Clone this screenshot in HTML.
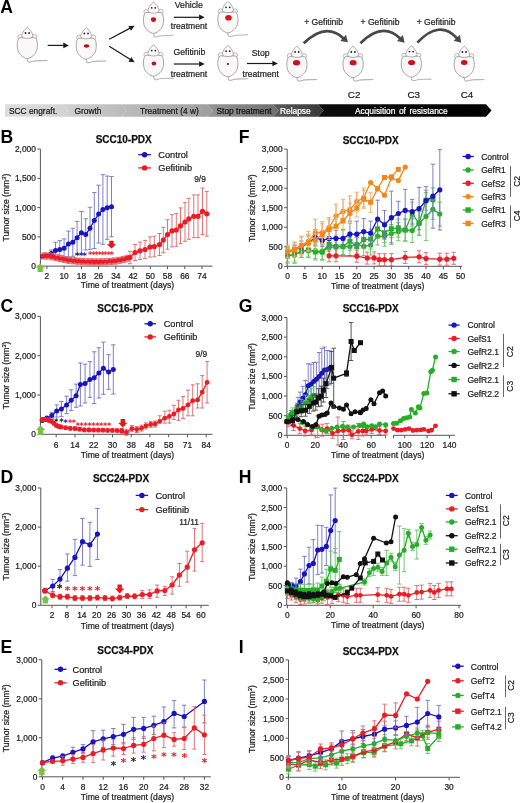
<!DOCTYPE html>
<html><head><meta charset="utf-8"><title>Figure</title><style>html,body{margin:0;padding:0;background:#fff;width:520px;height:803px;overflow:hidden}svg{display:block}</style></head><body>
<svg width="520" height="803" viewBox="0 0 520 803" font-family="'Liberation Sans', Arial, sans-serif">
<rect width="520" height="803" fill="#fff"/>
<text x="0.3" y="12.7" font-size="17.6" text-anchor="start" font-weight="bold" fill="#000" >A</text>
<g transform="translate(27.3,27.2)">
<path d="M0.2,30.8 C-0.4,34.3 1.2,35.6 4,34.6 C9,32.8 14,33.8 20.2,33.3" fill="none" stroke="#b4b4b4" stroke-width="1.1"/>
<circle cx="-7.2" cy="9.8" r="2.4" fill="#fbf7f9" stroke="#a4a4a4" stroke-width="0.75"/>
<circle cx="7.2" cy="9.8" r="2.4" fill="#fbf7f9" stroke="#a4a4a4" stroke-width="0.75"/>
<path d="M-7.6,10.5 C-10.6,12.5 -10.4,19.5 -9.4,23.2 C-8,27.8 -2.8,31.2 0,31.5 C2.8,31.2 8,27.8 9.4,23.2 C10.4,19.5 10.6,12.5 7.6,10.5 Z" fill="#fbf8fa" stroke="#9c9c9c" stroke-width="0.9"/>
<path d="M0,0 C-2,1.3 -5,5 -5.6,8.6 C-5.4,12 5.4,12 5.6,8.6 C5,5 2,1.3 0,0 Z" fill="#fcf9fb" stroke="#a0a0a0" stroke-width="0.85"/>
<circle cx="-1.8" cy="5.8" r="0.9" fill="#222"/><circle cx="1.8" cy="5.8" r="0.9" fill="#222"/>
</g>
<g transform="translate(86.2,27.7)">
<path d="M0.2,30.8 C-0.4,34.3 1.2,35.6 4,34.6 C9,32.8 14,33.8 20.2,33.3" fill="none" stroke="#b4b4b4" stroke-width="1.1"/>
<circle cx="-7.2" cy="9.8" r="2.4" fill="#fbf7f9" stroke="#a4a4a4" stroke-width="0.75"/>
<circle cx="7.2" cy="9.8" r="2.4" fill="#fbf7f9" stroke="#a4a4a4" stroke-width="0.75"/>
<path d="M-7.6,10.5 C-10.6,12.5 -10.4,19.5 -9.4,23.2 C-8,27.8 -2.8,31.2 0,31.5 C2.8,31.2 8,27.8 9.4,23.2 C10.4,19.5 10.6,12.5 7.6,10.5 Z" fill="#fbf8fa" stroke="#9c9c9c" stroke-width="0.9"/>
<path d="M0,0 C-2,1.3 -5,5 -5.6,8.6 C-5.4,12 5.4,12 5.6,8.6 C5,5 2,1.3 0,0 Z" fill="#fcf9fb" stroke="#a0a0a0" stroke-width="0.85"/>
<circle cx="-1.8" cy="5.8" r="0.9" fill="#222"/><circle cx="1.8" cy="5.8" r="0.9" fill="#222"/>
<ellipse cx="0.3" cy="18.3" rx="2.8" ry="1.8" fill="#b3121a"/>
</g>
<g transform="translate(153.5,2.0)">
<path d="M0.2,30.8 C-0.4,34.3 1.2,35.6 4,34.6 C9,32.8 14,33.8 20.2,33.3" fill="none" stroke="#b4b4b4" stroke-width="1.1"/>
<circle cx="-7.2" cy="9.8" r="2.4" fill="#fbf7f9" stroke="#a4a4a4" stroke-width="0.75"/>
<circle cx="7.2" cy="9.8" r="2.4" fill="#fbf7f9" stroke="#a4a4a4" stroke-width="0.75"/>
<path d="M-7.6,10.5 C-10.6,12.5 -10.4,19.5 -9.4,23.2 C-8,27.8 -2.8,31.2 0,31.5 C2.8,31.2 8,27.8 9.4,23.2 C10.4,19.5 10.6,12.5 7.6,10.5 Z" fill="#fbf8fa" stroke="#9c9c9c" stroke-width="0.9"/>
<path d="M0,0 C-2,1.3 -5,5 -5.6,8.6 C-5.4,12 5.4,12 5.6,8.6 C5,5 2,1.3 0,0 Z" fill="#fcf9fb" stroke="#a0a0a0" stroke-width="0.85"/>
<circle cx="-1.8" cy="5.8" r="0.9" fill="#222"/><circle cx="1.8" cy="5.8" r="0.9" fill="#222"/>
<ellipse cx="0.0" cy="17.6" rx="2.6" ry="2.3" fill="#c8121a"/>
</g>
<g transform="translate(227.9,1.5)">
<path d="M0.2,30.8 C-0.4,34.3 1.2,35.6 4,34.6 C9,32.8 14,33.8 20.2,33.3" fill="none" stroke="#b4b4b4" stroke-width="1.1"/>
<circle cx="-7.2" cy="9.8" r="2.4" fill="#fbf7f9" stroke="#a4a4a4" stroke-width="0.75"/>
<circle cx="7.2" cy="9.8" r="2.4" fill="#fbf7f9" stroke="#a4a4a4" stroke-width="0.75"/>
<path d="M-7.6,10.5 C-10.6,12.5 -10.4,19.5 -9.4,23.2 C-8,27.8 -2.8,31.2 0,31.5 C2.8,31.2 8,27.8 9.4,23.2 C10.4,19.5 10.6,12.5 7.6,10.5 Z" fill="#fbf8fa" stroke="#9c9c9c" stroke-width="0.9"/>
<path d="M0,0 C-2,1.3 -5,5 -5.6,8.6 C-5.4,12 5.4,12 5.6,8.6 C5,5 2,1.3 0,0 Z" fill="#fcf9fb" stroke="#a0a0a0" stroke-width="0.85"/>
<circle cx="-1.8" cy="5.8" r="0.9" fill="#222"/><circle cx="1.8" cy="5.8" r="0.9" fill="#222"/>
<ellipse cx="0.6" cy="16.3" rx="3.3" ry="2.8" fill="#e0121a"/>
</g>
<g transform="translate(153.5,44.8)">
<path d="M0.2,30.8 C-0.4,34.3 1.2,35.6 4,34.6 C9,32.8 14,33.8 20.2,33.3" fill="none" stroke="#b4b4b4" stroke-width="1.1"/>
<circle cx="-7.2" cy="9.8" r="2.4" fill="#fbf7f9" stroke="#a4a4a4" stroke-width="0.75"/>
<circle cx="7.2" cy="9.8" r="2.4" fill="#fbf7f9" stroke="#a4a4a4" stroke-width="0.75"/>
<path d="M-7.6,10.5 C-10.6,12.5 -10.4,19.5 -9.4,23.2 C-8,27.8 -2.8,31.2 0,31.5 C2.8,31.2 8,27.8 9.4,23.2 C10.4,19.5 10.6,12.5 7.6,10.5 Z" fill="#fbf8fa" stroke="#9c9c9c" stroke-width="0.9"/>
<path d="M0,0 C-2,1.3 -5,5 -5.6,8.6 C-5.4,12 5.4,12 5.6,8.6 C5,5 2,1.3 0,0 Z" fill="#fcf9fb" stroke="#a0a0a0" stroke-width="0.85"/>
<circle cx="-1.8" cy="5.8" r="0.9" fill="#222"/><circle cx="1.8" cy="5.8" r="0.9" fill="#222"/>
<ellipse cx="0.4" cy="18.7" rx="2.3" ry="2.1" fill="#b81020"/>
</g>
<g transform="translate(227.9,45.4)">
<path d="M0.2,30.8 C-0.4,34.3 1.2,35.6 4,34.6 C9,32.8 14,33.8 20.2,33.3" fill="none" stroke="#b4b4b4" stroke-width="1.1"/>
<circle cx="-7.2" cy="9.8" r="2.4" fill="#fbf7f9" stroke="#a4a4a4" stroke-width="0.75"/>
<circle cx="7.2" cy="9.8" r="2.4" fill="#fbf7f9" stroke="#a4a4a4" stroke-width="0.75"/>
<path d="M-7.6,10.5 C-10.6,12.5 -10.4,19.5 -9.4,23.2 C-8,27.8 -2.8,31.2 0,31.5 C2.8,31.2 8,27.8 9.4,23.2 C10.4,19.5 10.6,12.5 7.6,10.5 Z" fill="#fbf8fa" stroke="#9c9c9c" stroke-width="0.9"/>
<path d="M0,0 C-2,1.3 -5,5 -5.6,8.6 C-5.4,12 5.4,12 5.6,8.6 C5,5 2,1.3 0,0 Z" fill="#fcf9fb" stroke="#a0a0a0" stroke-width="0.85"/>
<circle cx="-1.8" cy="5.8" r="0.9" fill="#222"/><circle cx="1.8" cy="5.8" r="0.9" fill="#222"/>
<ellipse cx="0.0" cy="18.6" rx="1.2" ry="1.1" fill="#a01018"/>
</g>
<g transform="translate(296.9,46.2)">
<path d="M0.2,30.8 C-0.4,34.3 1.2,35.6 4,34.6 C9,32.8 14,33.8 20.2,33.3" fill="none" stroke="#b4b4b4" stroke-width="1.1"/>
<circle cx="-7.2" cy="9.8" r="2.4" fill="#fbf7f9" stroke="#a4a4a4" stroke-width="0.75"/>
<circle cx="7.2" cy="9.8" r="2.4" fill="#fbf7f9" stroke="#a4a4a4" stroke-width="0.75"/>
<path d="M-7.6,10.5 C-10.6,12.5 -10.4,19.5 -9.4,23.2 C-8,27.8 -2.8,31.2 0,31.5 C2.8,31.2 8,27.8 9.4,23.2 C10.4,19.5 10.6,12.5 7.6,10.5 Z" fill="#fbf8fa" stroke="#9c9c9c" stroke-width="0.9"/>
<path d="M0,0 C-2,1.3 -5,5 -5.6,8.6 C-5.4,12 5.4,12 5.6,8.6 C5,5 2,1.3 0,0 Z" fill="#fcf9fb" stroke="#a0a0a0" stroke-width="0.85"/>
<circle cx="-1.8" cy="5.8" r="0.9" fill="#222"/><circle cx="1.8" cy="5.8" r="0.9" fill="#222"/>
<ellipse cx="-0.4" cy="16.5" rx="3.6" ry="2.7" fill="#d0101a"/>
</g>
<g transform="translate(353.1,46.2)">
<path d="M0.2,30.8 C-0.4,34.3 1.2,35.6 4,34.6 C9,32.8 14,33.8 20.2,33.3" fill="none" stroke="#b4b4b4" stroke-width="1.1"/>
<circle cx="-7.2" cy="9.8" r="2.4" fill="#fbf7f9" stroke="#a4a4a4" stroke-width="0.75"/>
<circle cx="7.2" cy="9.8" r="2.4" fill="#fbf7f9" stroke="#a4a4a4" stroke-width="0.75"/>
<path d="M-7.6,10.5 C-10.6,12.5 -10.4,19.5 -9.4,23.2 C-8,27.8 -2.8,31.2 0,31.5 C2.8,31.2 8,27.8 9.4,23.2 C10.4,19.5 10.6,12.5 7.6,10.5 Z" fill="#fbf8fa" stroke="#9c9c9c" stroke-width="0.9"/>
<path d="M0,0 C-2,1.3 -5,5 -5.6,8.6 C-5.4,12 5.4,12 5.6,8.6 C5,5 2,1.3 0,0 Z" fill="#fcf9fb" stroke="#a0a0a0" stroke-width="0.85"/>
<circle cx="-1.8" cy="5.8" r="0.9" fill="#222"/><circle cx="1.8" cy="5.8" r="0.9" fill="#222"/>
<ellipse cx="0.0" cy="16.5" rx="3.5" ry="2.6" fill="#d0101a"/>
</g>
<g transform="translate(411.3,45.8)">
<path d="M0.2,30.8 C-0.4,34.3 1.2,35.6 4,34.6 C9,32.8 14,33.8 20.2,33.3" fill="none" stroke="#b4b4b4" stroke-width="1.1"/>
<circle cx="-7.2" cy="9.8" r="2.4" fill="#fbf7f9" stroke="#a4a4a4" stroke-width="0.75"/>
<circle cx="7.2" cy="9.8" r="2.4" fill="#fbf7f9" stroke="#a4a4a4" stroke-width="0.75"/>
<path d="M-7.6,10.5 C-10.6,12.5 -10.4,19.5 -9.4,23.2 C-8,27.8 -2.8,31.2 0,31.5 C2.8,31.2 8,27.8 9.4,23.2 C10.4,19.5 10.6,12.5 7.6,10.5 Z" fill="#fbf8fa" stroke="#9c9c9c" stroke-width="0.9"/>
<path d="M0,0 C-2,1.3 -5,5 -5.6,8.6 C-5.4,12 5.4,12 5.6,8.6 C5,5 2,1.3 0,0 Z" fill="#fcf9fb" stroke="#a0a0a0" stroke-width="0.85"/>
<circle cx="-1.8" cy="5.8" r="0.9" fill="#222"/><circle cx="1.8" cy="5.8" r="0.9" fill="#222"/>
<ellipse cx="0.3" cy="16.7" rx="3.5" ry="2.6" fill="#cc1018"/>
</g>
<g transform="translate(464.2,46.2)">
<path d="M0.2,30.8 C-0.4,34.3 1.2,35.6 4,34.6 C9,32.8 14,33.8 20.2,33.3" fill="none" stroke="#b4b4b4" stroke-width="1.1"/>
<circle cx="-7.2" cy="9.8" r="2.4" fill="#fbf7f9" stroke="#a4a4a4" stroke-width="0.75"/>
<circle cx="7.2" cy="9.8" r="2.4" fill="#fbf7f9" stroke="#a4a4a4" stroke-width="0.75"/>
<path d="M-7.6,10.5 C-10.6,12.5 -10.4,19.5 -9.4,23.2 C-8,27.8 -2.8,31.2 0,31.5 C2.8,31.2 8,27.8 9.4,23.2 C10.4,19.5 10.6,12.5 7.6,10.5 Z" fill="#fbf8fa" stroke="#9c9c9c" stroke-width="0.9"/>
<path d="M0,0 C-2,1.3 -5,5 -5.6,8.6 C-5.4,12 5.4,12 5.6,8.6 C5,5 2,1.3 0,0 Z" fill="#fcf9fb" stroke="#a0a0a0" stroke-width="0.85"/>
<circle cx="-1.8" cy="5.8" r="0.9" fill="#222"/><circle cx="1.8" cy="5.8" r="0.9" fill="#222"/>
<ellipse cx="0.0" cy="16.3" rx="3.3" ry="2.5" fill="#cc1018"/>
</g>
<line x1="47.7" y1="45.4" x2="63.8" y2="45.4" stroke="#1a1a1a" stroke-width="1.2" />
<polygon points="68.8,45.4 63.3,48.2 63.3,42.6" fill="#1a1a1a"/>
<line x1="109.2" y1="39.2" x2="130.2" y2="28.1" stroke="#1a1a1a" stroke-width="1.2" />
<polygon points="134.6,25.8 131.0,30.8 128.4,25.9" fill="#1a1a1a"/>
<line x1="109.2" y1="46.3" x2="130.4" y2="59.6" stroke="#1a1a1a" stroke-width="1.2" />
<polygon points="134.6,62.3 128.5,61.7 131.4,57.0" fill="#1a1a1a"/>
<line x1="173.8" y1="17.3" x2="199.6" y2="17.3" stroke="#1a1a1a" stroke-width="1.2" />
<polygon points="204.6,17.3 199.1,20.1 199.1,14.5" fill="#1a1a1a"/>
<line x1="173.8" y1="64.0" x2="199.6" y2="64.0" stroke="#1a1a1a" stroke-width="1.2" />
<polygon points="204.6,64.0 199.1,66.8 199.1,61.2" fill="#1a1a1a"/>
<line x1="247.0" y1="63.5" x2="272.9" y2="63.5" stroke="#1a1a1a" stroke-width="1.2" />
<polygon points="277.9,63.5 272.4,66.3 272.4,60.7" fill="#1a1a1a"/>
<text x="188.8" y="8.4" font-size="8.7" text-anchor="middle" font-weight="normal" fill="#222222" stroke="#222222" stroke-width="0.22" >Vehicle</text>
<text x="189.0" y="29.0" font-size="8.6" text-anchor="middle" font-weight="normal" fill="#222222" stroke="#222222" stroke-width="0.22" >treatment</text>
<text x="189.4" y="55.0" font-size="8.7" text-anchor="middle" font-weight="normal" fill="#222222" stroke="#222222" stroke-width="0.22" >Gefitinib</text>
<text x="189.0" y="76.8" font-size="8.6" text-anchor="middle" font-weight="normal" fill="#222222" stroke="#222222" stroke-width="0.22" >treatment</text>
<text x="260.7" y="55.6" font-size="8.7" text-anchor="middle" font-weight="normal" fill="#222222" stroke="#222222" stroke-width="0.22" >Stop</text>
<text x="260.7" y="76.8" font-size="8.6" text-anchor="middle" font-weight="normal" fill="#222222" stroke="#222222" stroke-width="0.22" >treatment</text>
<text x="323.6" y="25.0" font-size="8.6" text-anchor="middle" font-weight="normal" fill="#222222" stroke="#222222" stroke-width="0.22" >+ Gefitinib</text>
<text x="380.0" y="25.0" font-size="8.6" text-anchor="middle" font-weight="normal" fill="#222222" stroke="#222222" stroke-width="0.22" >+ Gefitinib</text>
<text x="436.1" y="25.0" font-size="8.6" text-anchor="middle" font-weight="normal" fill="#222222" stroke="#222222" stroke-width="0.22" >+ Gefitinib</text>
<path d="M303.7,43.3 Q325.8,21.6 343.7,38.4" fill="none" stroke="#484848" stroke-width="2.7"/>
<polygon points="347.9,42.3 340.3,40.9 346.0,34.8" fill="#484848"/>
<path d="M360.4,43.3 Q382.5,21.0 400.5,38.7" fill="none" stroke="#484848" stroke-width="2.7"/>
<polygon points="404.6,42.7 397.0,41.1 402.9,35.1" fill="#484848"/>
<path d="M417.3,42.7 Q439.2,18.9 457.3,38.5" fill="none" stroke="#484848" stroke-width="2.7"/>
<polygon points="461.2,42.7 453.7,40.8 459.9,35.1" fill="#484848"/>
<text x="354.1" y="98.0" font-size="9.8" text-anchor="middle" font-weight="normal" fill="#222222" stroke="#222222" stroke-width="0.22" >C2</text>
<text x="413.8" y="98.0" font-size="9.8" text-anchor="middle" font-weight="normal" fill="#222222" stroke="#222222" stroke-width="0.22" >C3</text>
<text x="467.0" y="98.0" font-size="9.8" text-anchor="middle" font-weight="normal" fill="#222222" stroke="#222222" stroke-width="0.22" >C4</text>
<defs>
<linearGradient id="bg0" x1="0" y1="0" x2="1" y2="0"><stop offset="0" stop-color="#dddddd"/><stop offset="1" stop-color="#d2d2d2"/></linearGradient>
<linearGradient id="bg1" x1="0" y1="0" x2="1" y2="0"><stop offset="0" stop-color="#d2d2d2"/><stop offset="1" stop-color="#b9b9b9"/></linearGradient>
<linearGradient id="bg2" x1="0" y1="0" x2="1" y2="0"><stop offset="0" stop-color="#bdbdbd"/><stop offset="1" stop-color="#9d9d9d"/></linearGradient>
<linearGradient id="bg3" x1="0" y1="0" x2="1" y2="0"><stop offset="0" stop-color="#969696"/><stop offset="1" stop-color="#6e6e6e"/></linearGradient>
<linearGradient id="bg4" x1="0" y1="0" x2="1" y2="0"><stop offset="0" stop-color="#5c5c5c"/><stop offset="1" stop-color="#363636"/></linearGradient>
<linearGradient id="bg5" x1="0" y1="0" x2="1" y2="0"><stop offset="0" stop-color="#0c0c0c"/><stop offset="1" stop-color="#000000"/></linearGradient>
</defs>
<polygon points="5.0,104.3 63.0,104.3 68.5,110.5 63.0,116.8 5.0,116.8 5.0,110.5" fill="url(#bg0)"/>
<polygon points="63.0,104.3 121.0,104.3 126.5,110.5 121.0,116.8 63.0,116.8 68.5,110.5" fill="url(#bg1)"/>
<polygon points="121.0,104.3 207.0,104.3 212.5,110.5 207.0,116.8 121.0,116.8 126.5,110.5" fill="url(#bg2)"/>
<polygon points="207.0,104.3 273.0,104.3 278.5,110.5 273.0,116.8 207.0,116.8 212.5,110.5" fill="url(#bg3)"/>
<polygon points="273.0,104.3 318.0,104.3 323.5,110.5 318.0,116.8 273.0,116.8 278.5,110.5" fill="url(#bg4)"/>
<polygon points="318.0,104.3 486.0,104.3 491.5,110.5 486.0,116.8 318.0,116.8 323.5,110.5" fill="url(#bg5)"/>
<text x="33.1" y="113.5" font-size="8.4" text-anchor="middle" font-weight="normal" fill="#1a1a1a" stroke="#1a1a1a" stroke-width="0.22" >SCC engraft.</text>
<text x="88.0" y="113.5" font-size="8.4" text-anchor="middle" font-weight="normal" fill="#1a1a1a" stroke="#1a1a1a" stroke-width="0.22" >Growth</text>
<text x="169.4" y="113.5" font-size="8.4" text-anchor="middle" font-weight="normal" fill="#1a1a1a" stroke="#1a1a1a" stroke-width="0.22" >Treatment (4 w)</text>
<text x="244.0" y="113.5" font-size="8.4" text-anchor="middle" font-weight="normal" fill="#111" stroke="#111" stroke-width="0.22" >Stop treatment</text>
<text x="295.3" y="113.5" font-size="8.4" text-anchor="middle" font-weight="normal" fill="#fff" stroke="#fff" stroke-width="0.22" >Relapse</text>
<text x="401.3" y="113.5" font-size="8.4" text-anchor="middle" font-weight="normal" fill="#fff" stroke="#fff" stroke-width="0.22" word-spacing="1.2">Acquisition of resistance</text>
<text x="0.5" y="142.5" font-size="17.6" text-anchor="start" font-weight="bold" fill="#000" >B</text>
<text x="123.7" y="142.6" font-size="10" text-anchor="middle" font-weight="bold" fill="#111" stroke="#111" stroke-width="0.25" >SCC10-PDX</text>
<line x1="40.4" y1="149.1" x2="40.4" y2="266.1" stroke="#555555" stroke-width="1" />
<line x1="37.4" y1="266.1" x2="40.4" y2="266.1" stroke="#555555" stroke-width="1" />
<text x="35.9" y="269.1" font-size="8.4" text-anchor="end" font-weight="normal" fill="#222222" stroke="#222222" stroke-width="0.22" >0</text>
<line x1="37.4" y1="236.9" x2="40.4" y2="236.9" stroke="#555555" stroke-width="1" />
<text x="35.9" y="239.9" font-size="8.4" text-anchor="end" font-weight="normal" fill="#222222" stroke="#222222" stroke-width="0.22" >500</text>
<line x1="37.4" y1="207.6" x2="40.4" y2="207.6" stroke="#555555" stroke-width="1" />
<text x="35.9" y="210.6" font-size="8.4" text-anchor="end" font-weight="normal" fill="#222222" stroke="#222222" stroke-width="0.22" >1,000</text>
<line x1="37.4" y1="178.4" x2="40.4" y2="178.4" stroke="#555555" stroke-width="1" />
<text x="35.9" y="181.4" font-size="8.4" text-anchor="end" font-weight="normal" fill="#222222" stroke="#222222" stroke-width="0.22" >1,500</text>
<line x1="37.4" y1="149.1" x2="40.4" y2="149.1" stroke="#555555" stroke-width="1" />
<text x="35.9" y="152.1" font-size="8.4" text-anchor="end" font-weight="normal" fill="#222222" stroke="#222222" stroke-width="0.22" >2,000</text>
<line x1="40.4" y1="266.1" x2="212.5" y2="266.1" stroke="#555555" stroke-width="1" />
<line x1="46.9" y1="266.1" x2="46.9" y2="269.1" stroke="#555555" stroke-width="1" />
<text x="46.9" y="278.5" font-size="8.4" text-anchor="middle" font-weight="normal" fill="#222222" stroke="#222222" stroke-width="0.22" >2</text>
<line x1="64.1" y1="266.1" x2="64.1" y2="269.1" stroke="#555555" stroke-width="1" />
<text x="64.1" y="278.5" font-size="8.4" text-anchor="middle" font-weight="normal" fill="#222222" stroke="#222222" stroke-width="0.22" >10</text>
<line x1="81.4" y1="266.1" x2="81.4" y2="269.1" stroke="#555555" stroke-width="1" />
<text x="81.4" y="278.5" font-size="8.4" text-anchor="middle" font-weight="normal" fill="#222222" stroke="#222222" stroke-width="0.22" >18</text>
<line x1="98.6" y1="266.1" x2="98.6" y2="269.1" stroke="#555555" stroke-width="1" />
<text x="98.6" y="278.5" font-size="8.4" text-anchor="middle" font-weight="normal" fill="#222222" stroke="#222222" stroke-width="0.22" >26</text>
<line x1="115.8" y1="266.1" x2="115.8" y2="269.1" stroke="#555555" stroke-width="1" />
<text x="115.8" y="278.5" font-size="8.4" text-anchor="middle" font-weight="normal" fill="#222222" stroke="#222222" stroke-width="0.22" >34</text>
<line x1="133.1" y1="266.1" x2="133.1" y2="269.1" stroke="#555555" stroke-width="1" />
<text x="133.1" y="278.5" font-size="8.4" text-anchor="middle" font-weight="normal" fill="#222222" stroke="#222222" stroke-width="0.22" >42</text>
<line x1="150.3" y1="266.1" x2="150.3" y2="269.1" stroke="#555555" stroke-width="1" />
<text x="150.3" y="278.5" font-size="8.4" text-anchor="middle" font-weight="normal" fill="#222222" stroke="#222222" stroke-width="0.22" >50</text>
<line x1="167.5" y1="266.1" x2="167.5" y2="269.1" stroke="#555555" stroke-width="1" />
<text x="167.5" y="278.5" font-size="8.4" text-anchor="middle" font-weight="normal" fill="#222222" stroke="#222222" stroke-width="0.22" >58</text>
<line x1="184.8" y1="266.1" x2="184.8" y2="269.1" stroke="#555555" stroke-width="1" />
<text x="184.8" y="278.5" font-size="8.4" text-anchor="middle" font-weight="normal" fill="#222222" stroke="#222222" stroke-width="0.22" >66</text>
<line x1="202.0" y1="266.1" x2="202.0" y2="269.1" stroke="#555555" stroke-width="1" />
<text x="202.0" y="278.5" font-size="8.4" text-anchor="middle" font-weight="normal" fill="#222222" stroke="#222222" stroke-width="0.22" >74</text>
<text x="127.5" y="288.0" font-size="8.6" text-anchor="middle" font-weight="normal" fill="#222222" stroke="#222222" stroke-width="0.22" >Time of treatment (days)</text>
<text transform="translate(8.8,207.6) rotate(-90)" font-size="8.6" text-anchor="middle" fill="#222222" stroke="#222222" stroke-width="0.22">Tumor size (mm<tspan font-size="5.6" dy="-3">3</tspan><tspan dy="3">)</tspan></text>
<path d="M51.2,250.0V257.0M49.0,250.0H53.4M49.0,257.0H53.4M55.5,242.3V258.7M53.3,242.3H57.7M53.3,258.7H57.7M59.8,240.6V258.6M57.6,240.6H62.0M57.6,258.6H62.0M64.1,238.9V257.5M61.9,238.9H66.3M61.9,257.5H66.3M68.4,231.1V256.9M66.2,231.1H70.6M66.2,256.9H70.6M72.8,228.3V256.3M70.6,228.3H75.0M70.6,256.3H75.0M77.1,221.4V254.2M74.9,221.4H79.3M74.9,254.2H79.3M81.4,211.5V253.9M79.2,211.5H83.6M79.2,253.9H83.6M85.7,218.8V250.0M83.5,218.8H87.9M83.5,250.0H87.9M90.0,207.2V249.4M87.8,207.2H92.2M87.8,249.4H92.2M94.3,192.5V248.5M92.1,192.5H96.5M92.1,248.5H96.5M98.6,185.2V243.0M96.4,185.2H100.8M96.4,243.0H100.8M102.9,174.7V244.3M100.7,174.7H105.1M100.7,244.3H105.1M107.2,176.1V239.3M105.0,176.1H109.4M105.0,239.3H109.4M111.5,176.6V236.8M109.3,176.6H113.7M109.3,236.8H113.7" fill="none" stroke="#7272c4" stroke-width="0.9"/>
<polyline points="42.6,256.5 46.9,255.5 51.2,253.5 55.5,250.5 59.8,249.6 64.1,248.2 68.4,244.0 72.8,242.3 77.1,237.8 81.4,232.7 85.7,234.4 90.0,228.3 94.3,220.5 98.6,214.1 102.9,209.5 107.2,207.7 111.5,206.7" fill="none" stroke="#1a14c0" stroke-width="1.3" stroke-linejoin="round"/>
<g fill="#1a14c0"><circle cx="42.6" cy="256.5" r="2.5"/><circle cx="46.9" cy="255.5" r="2.5"/><circle cx="51.2" cy="253.5" r="2.5"/><circle cx="55.5" cy="250.5" r="2.5"/><circle cx="59.8" cy="249.6" r="2.5"/><circle cx="64.1" cy="248.2" r="2.5"/><circle cx="68.4" cy="244.0" r="2.5"/><circle cx="72.8" cy="242.3" r="2.5"/><circle cx="77.1" cy="237.8" r="2.5"/><circle cx="81.4" cy="232.7" r="2.5"/><circle cx="85.7" cy="234.4" r="2.5"/><circle cx="90.0" cy="228.3" r="2.5"/><circle cx="94.3" cy="220.5" r="2.5"/><circle cx="98.6" cy="214.1" r="2.5"/><circle cx="102.9" cy="209.5" r="2.5"/><circle cx="107.2" cy="207.7" r="2.5"/><circle cx="111.5" cy="206.7" r="2.5"/></g>
<path d="M42.6,253.2V259.0M40.6,253.2H44.6M40.6,259.0H44.6M44.8,252.7V258.6M42.8,252.7H46.8M42.8,258.6H46.8M46.9,253.4V259.3M44.9,253.4H48.9M44.9,259.3H48.9M49.1,252.9V258.8M47.1,252.9H51.1M47.1,258.8H51.1M51.2,254.0V259.8M49.2,254.0H53.2M49.2,259.8H53.2M53.4,253.8V259.7M51.4,253.8H55.4M51.4,259.7H55.4M55.5,254.8V260.7M53.5,254.8H57.5M53.5,260.7H57.5M57.7,254.7V260.5M55.7,254.7H59.7M55.7,260.5H59.7M59.8,255.7V261.6M57.8,255.7H61.8M57.8,261.6H61.8M62.0,255.6V261.5M60.0,255.6H64.0M60.0,261.5H64.0M64.1,256.7V262.5M62.1,256.7H66.1M62.1,262.5H66.1M66.3,256.6V262.4M64.3,256.6H68.3M64.3,262.4H68.3M68.4,257.6V263.5M66.4,257.6H70.4M66.4,263.5H70.4M70.6,257.3V263.1M68.6,257.3H72.6M68.6,263.1H72.6M72.8,258.1V263.9M70.8,258.1H74.8M70.8,263.9H74.8M74.9,257.7V263.5M72.9,257.7H76.9M72.9,263.5H76.9M77.1,258.5V264.3M75.1,258.5H79.1M75.1,264.3H79.1M79.2,258.1V263.9M77.2,258.1H81.2M77.2,263.9H81.2M81.4,258.8V264.6M79.4,258.8H83.4M79.4,264.6H83.4M83.5,258.3V264.2M81.5,258.3H85.5M81.5,264.2H85.5M85.7,259.1V264.9M83.7,259.1H87.7M83.7,264.9H87.7M87.8,258.6V264.4M85.8,258.6H89.8M85.8,264.4H89.8M90.0,259.2V265.0M88.0,259.2H92.0M88.0,265.0H92.0M92.1,258.7V264.5M90.1,258.7H94.1M90.1,264.5H94.1M94.3,259.3V265.2M92.3,259.3H96.3M92.3,265.2H96.3M96.4,258.8V264.6M94.4,258.8H98.4M94.4,264.6H98.4M98.6,259.3V265.2M96.6,259.3H100.6M96.6,265.2H100.6M100.8,258.7V264.5M98.8,258.7H102.8M98.8,264.5H102.8M102.9,259.2V265.0M100.9,259.2H104.9M100.9,265.0H104.9M105.1,258.6V264.4M103.1,258.6H107.1M103.1,264.4H107.1M107.2,259.1V264.9M105.2,259.1H109.2M105.2,264.9H109.2M109.4,258.3V264.2M107.4,258.3H111.4M107.4,264.2H111.4M111.5,258.7V264.5M109.5,258.7H113.5M109.5,264.5H113.5M113.7,257.9V263.8M111.7,257.9H115.7M111.7,263.8H115.7M115.8,258.3V264.2M113.8,258.3H117.8M113.8,264.2H117.8M118.0,257.3V263.2M116.0,257.3H120.0M116.0,263.2H120.0M120.1,257.5V263.3M118.1,257.5H122.1M118.1,263.3H122.1M122.3,256.4V262.3M120.3,256.4H124.3M120.3,262.3H124.3M124.5,256.4V262.3M122.5,256.4H126.5M122.5,262.3H126.5M126.6,255.3V261.1M124.6,255.3H128.6M124.6,261.1H128.6M128.8,255.3V261.1M126.8,255.3H130.8M126.8,261.1H130.8M130.0,251.3V263.7M128.0,251.3H132.0M128.0,263.7H132.0M135.0,244.5V260.5M133.0,244.5H137.0M133.0,260.5H137.0M140.0,242.1V259.5M138.0,242.1H142.0M138.0,259.5H142.0M145.0,240.4V258.6M143.0,240.4H147.0M143.0,258.6H147.0M150.0,236.9V257.1M148.0,236.9H152.0M148.0,257.1H152.0M154.3,236.2V256.8M152.3,236.2H156.3M152.3,256.8H156.3M159.5,233.5V255.5M157.5,233.5H161.5M157.5,255.5H161.5M163.3,227.3V252.7M161.3,227.3H165.3M161.3,252.7H165.3M167.5,219.8V249.2M165.5,219.8H169.5M165.5,249.2H169.5M172.0,214.7V246.9M170.0,214.7H174.0M170.0,246.9H174.0M176.3,213.6V246.4M174.3,213.6H178.3M174.3,246.4H178.3M180.5,207.9V243.7M178.5,207.9H182.5M178.5,243.7H182.5M185.0,202.7V241.3M183.0,202.7H187.0M183.0,241.3H187.0M188.8,198.3V239.3M186.8,198.3H190.8M186.8,239.3H190.8M193.8,194.9V237.7M191.8,194.9H195.8M191.8,237.7H195.8M198.0,194.9V237.7M196.0,194.9H200.0M196.0,237.7H200.0M202.5,188.0V234.6M200.5,188.0H204.5M200.5,234.6H204.5M206.8,191.4V236.2M204.8,191.4H208.8M204.8,236.2H208.8" fill="none" stroke="#de6468" stroke-width="0.9"/>
<polyline points="42.6,256.1 44.8,255.6 46.9,256.3 49.1,255.9 51.2,256.9 53.4,256.7 55.5,257.8 57.7,257.6 59.8,258.7 62.0,258.6 64.1,259.6 66.3,259.5 68.4,260.5 70.6,260.2 72.8,261.0 74.9,260.6 77.1,261.4 79.2,261.0 81.4,261.7 83.5,261.3 85.7,262.0 87.8,261.5 90.0,262.1 92.1,261.6 94.3,262.2 96.4,261.7 98.6,262.2 100.8,261.6 102.9,262.1 105.1,261.5 107.2,262.0 109.4,261.2 111.5,261.6 113.7,260.8 115.8,261.2 118.0,260.2 120.1,260.4 122.3,259.4 124.5,259.4 126.6,258.2 128.8,258.2 130.0,257.5 135.0,252.5 140.0,250.8 145.0,249.5 150.0,247.0 154.3,246.5 159.5,244.5 163.3,240.0 167.5,234.5 172.0,230.8 176.3,230.0 180.5,225.8 185.0,222.0 188.8,218.8 193.8,216.3 198.0,216.3 202.5,211.3 206.8,213.8" fill="none" stroke="#ea1c24" stroke-width="1.3" stroke-linejoin="round"/>
<g fill="#ea1c24"><circle cx="42.6" cy="256.1" r="2.1"/><circle cx="44.8" cy="255.6" r="2.1"/><circle cx="46.9" cy="256.3" r="2.1"/><circle cx="49.1" cy="255.9" r="2.1"/><circle cx="51.2" cy="256.9" r="2.1"/><circle cx="53.4" cy="256.7" r="2.1"/><circle cx="55.5" cy="257.8" r="2.1"/><circle cx="57.7" cy="257.6" r="2.1"/><circle cx="59.8" cy="258.7" r="2.1"/><circle cx="62.0" cy="258.6" r="2.1"/><circle cx="64.1" cy="259.6" r="2.1"/><circle cx="66.3" cy="259.5" r="2.1"/><circle cx="68.4" cy="260.5" r="2.1"/><circle cx="70.6" cy="260.2" r="2.1"/><circle cx="72.8" cy="261.0" r="2.1"/><circle cx="74.9" cy="260.6" r="2.1"/><circle cx="77.1" cy="261.4" r="2.1"/><circle cx="79.2" cy="261.0" r="2.1"/><circle cx="81.4" cy="261.7" r="2.1"/><circle cx="83.5" cy="261.3" r="2.1"/><circle cx="85.7" cy="262.0" r="2.1"/><circle cx="87.8" cy="261.5" r="2.1"/><circle cx="90.0" cy="262.1" r="2.1"/><circle cx="92.1" cy="261.6" r="2.1"/><circle cx="94.3" cy="262.2" r="2.1"/><circle cx="96.4" cy="261.7" r="2.1"/><circle cx="98.6" cy="262.2" r="2.1"/><circle cx="100.8" cy="261.6" r="2.1"/><circle cx="102.9" cy="262.1" r="2.1"/><circle cx="105.1" cy="261.5" r="2.1"/><circle cx="107.2" cy="262.0" r="2.1"/><circle cx="109.4" cy="261.2" r="2.1"/><circle cx="111.5" cy="261.6" r="2.1"/><circle cx="113.7" cy="260.8" r="2.1"/><circle cx="115.8" cy="261.2" r="2.1"/><circle cx="118.0" cy="260.2" r="2.1"/><circle cx="120.1" cy="260.4" r="2.1"/><circle cx="122.3" cy="259.4" r="2.1"/><circle cx="124.5" cy="259.4" r="2.1"/><circle cx="126.6" cy="258.2" r="2.1"/><circle cx="128.8" cy="258.2" r="2.1"/><circle cx="130.0" cy="257.5" r="2.6"/><circle cx="135.0" cy="252.5" r="2.6"/><circle cx="140.0" cy="250.8" r="2.6"/><circle cx="145.0" cy="249.5" r="2.6"/><circle cx="150.0" cy="247.0" r="2.6"/><circle cx="154.3" cy="246.5" r="2.6"/><circle cx="159.5" cy="244.5" r="2.6"/><circle cx="163.3" cy="240.0" r="2.6"/><circle cx="167.5" cy="234.5" r="2.6"/><circle cx="172.0" cy="230.8" r="2.6"/><circle cx="176.3" cy="230.0" r="2.6"/><circle cx="180.5" cy="225.8" r="2.6"/><circle cx="185.0" cy="222.0" r="2.6"/><circle cx="188.8" cy="218.8" r="2.6"/><circle cx="193.8" cy="216.3" r="2.6"/><circle cx="198.0" cy="216.3" r="2.6"/><circle cx="202.5" cy="211.3" r="2.6"/><circle cx="206.8" cy="213.8" r="2.6"/></g>
<text x="77.2" y="258.5" font-size="8.5" text-anchor="middle" font-weight="bold" font-family="DejaVu Sans, sans-serif" fill="#222">*</text>
<text x="81.3" y="258.5" font-size="8.5" text-anchor="middle" font-weight="bold" font-family="DejaVu Sans, sans-serif" fill="#1a14c0">*</text>
<text x="84.8" y="258.5" font-size="8.5" text-anchor="middle" font-weight="bold" font-family="DejaVu Sans, sans-serif" fill="#1a14c0">*</text>
<text x="90.2" y="258.2" font-size="8.0" text-anchor="middle" font-weight="bold" font-family="DejaVu Sans, sans-serif" fill="#ea1c24">*</text>
<text x="93.3" y="258.2" font-size="8.0" text-anchor="middle" font-weight="bold" font-family="DejaVu Sans, sans-serif" fill="#ea1c24">*</text>
<text x="96.4" y="258.2" font-size="8.0" text-anchor="middle" font-weight="bold" font-family="DejaVu Sans, sans-serif" fill="#ea1c24">*</text>
<text x="99.5" y="258.2" font-size="8.0" text-anchor="middle" font-weight="bold" font-family="DejaVu Sans, sans-serif" fill="#ea1c24">*</text>
<text x="102.6" y="258.2" font-size="8.0" text-anchor="middle" font-weight="bold" font-family="DejaVu Sans, sans-serif" fill="#ea1c24">*</text>
<text x="105.7" y="258.2" font-size="8.0" text-anchor="middle" font-weight="bold" font-family="DejaVu Sans, sans-serif" fill="#ea1c24">*</text>
<text x="108.8" y="258.2" font-size="8.0" text-anchor="middle" font-weight="bold" font-family="DejaVu Sans, sans-serif" fill="#ea1c24">*</text>
<text x="111.9" y="258.2" font-size="8.0" text-anchor="middle" font-weight="bold" font-family="DejaVu Sans, sans-serif" fill="#ea1c24">*</text>
<polygon points="111.5,248.6 116.2,244.2 113.7,244.2 113.7,240.8 109.3,240.8 109.3,244.2 106.8,244.2" fill="#e8161b"/>
<polygon points="40.2,263.6 44.7,267.8 42.9,267.8 42.9,272.0 37.5,272.0 37.5,267.8 35.7,267.8" fill="#7cc242"/>
<text x="200.0" y="181.6" font-size="8.4" text-anchor="middle" font-weight="normal" fill="#222222" stroke="#222222" stroke-width="0.22" >9/9</text>
<line x1="138.3" y1="154.7" x2="150.9" y2="154.7" stroke="#1a14c0" stroke-width="1.3" />
<circle cx="144.6" cy="154.7" r="2.7" fill="#1a14c0"/>
<text x="158.3" y="158.0" font-size="9.2" text-anchor="start" font-weight="normal" fill="#222222" stroke="#222222" stroke-width="0.22" >Control</text>
<line x1="138.3" y1="167.9" x2="150.9" y2="167.9" stroke="#ea1c24" stroke-width="1.3" />
<circle cx="144.6" cy="167.9" r="2.7" fill="#ea1c24"/>
<text x="158.3" y="171.2" font-size="9.2" text-anchor="start" font-weight="normal" fill="#222222" stroke="#222222" stroke-width="0.22" >Gefitinib</text>
<text x="0.5" y="311.9" font-size="17.6" text-anchor="start" font-weight="bold" fill="#000" >C</text>
<text x="125.4" y="311.7" font-size="10" text-anchor="middle" font-weight="bold" fill="#111" stroke="#111" stroke-width="0.25" >SCC16-PDX</text>
<line x1="40.4" y1="316.4" x2="40.4" y2="434.3" stroke="#555555" stroke-width="1" />
<line x1="37.4" y1="434.3" x2="40.4" y2="434.3" stroke="#555555" stroke-width="1" />
<text x="35.9" y="437.3" font-size="8.4" text-anchor="end" font-weight="normal" fill="#222222" stroke="#222222" stroke-width="0.22" >0</text>
<line x1="37.4" y1="395.0" x2="40.4" y2="395.0" stroke="#555555" stroke-width="1" />
<text x="35.9" y="398.0" font-size="8.4" text-anchor="end" font-weight="normal" fill="#222222" stroke="#222222" stroke-width="0.22" >1,000</text>
<line x1="37.4" y1="355.7" x2="40.4" y2="355.7" stroke="#555555" stroke-width="1" />
<text x="35.9" y="358.7" font-size="8.4" text-anchor="end" font-weight="normal" fill="#222222" stroke="#222222" stroke-width="0.22" >2,000</text>
<line x1="37.4" y1="316.4" x2="40.4" y2="316.4" stroke="#555555" stroke-width="1" />
<text x="35.9" y="319.4" font-size="8.4" text-anchor="end" font-weight="normal" fill="#222222" stroke="#222222" stroke-width="0.22" >3,000</text>
<line x1="40.4" y1="434.3" x2="212.5" y2="434.3" stroke="#555555" stroke-width="1" />
<line x1="56.2" y1="434.3" x2="56.2" y2="437.3" stroke="#555555" stroke-width="1" />
<text x="56.2" y="447.5" font-size="8.4" text-anchor="middle" font-weight="normal" fill="#222222" stroke="#222222" stroke-width="0.22" >6</text>
<line x1="75.0" y1="434.3" x2="75.0" y2="437.3" stroke="#555555" stroke-width="1" />
<text x="75.0" y="447.5" font-size="8.4" text-anchor="middle" font-weight="normal" fill="#222222" stroke="#222222" stroke-width="0.22" >14</text>
<line x1="93.7" y1="434.3" x2="93.7" y2="437.3" stroke="#555555" stroke-width="1" />
<text x="93.7" y="447.5" font-size="8.4" text-anchor="middle" font-weight="normal" fill="#222222" stroke="#222222" stroke-width="0.22" >22</text>
<line x1="112.5" y1="434.3" x2="112.5" y2="437.3" stroke="#555555" stroke-width="1" />
<text x="112.5" y="447.5" font-size="8.4" text-anchor="middle" font-weight="normal" fill="#222222" stroke="#222222" stroke-width="0.22" >30</text>
<line x1="131.2" y1="434.3" x2="131.2" y2="437.3" stroke="#555555" stroke-width="1" />
<text x="131.2" y="447.5" font-size="8.4" text-anchor="middle" font-weight="normal" fill="#222222" stroke="#222222" stroke-width="0.22" >38</text>
<line x1="149.9" y1="434.3" x2="149.9" y2="437.3" stroke="#555555" stroke-width="1" />
<text x="149.9" y="447.5" font-size="8.4" text-anchor="middle" font-weight="normal" fill="#222222" stroke="#222222" stroke-width="0.22" >48</text>
<line x1="168.7" y1="434.3" x2="168.7" y2="437.3" stroke="#555555" stroke-width="1" />
<text x="168.7" y="447.5" font-size="8.4" text-anchor="middle" font-weight="normal" fill="#222222" stroke="#222222" stroke-width="0.22" >58</text>
<line x1="187.4" y1="434.3" x2="187.4" y2="437.3" stroke="#555555" stroke-width="1" />
<text x="187.4" y="447.5" font-size="8.4" text-anchor="middle" font-weight="normal" fill="#222222" stroke="#222222" stroke-width="0.22" >71</text>
<line x1="206.2" y1="434.3" x2="206.2" y2="437.3" stroke="#555555" stroke-width="1" />
<text x="206.2" y="447.5" font-size="8.4" text-anchor="middle" font-weight="normal" fill="#222222" stroke="#222222" stroke-width="0.22" >84</text>
<text x="127.5" y="457.5" font-size="8.6" text-anchor="middle" font-weight="normal" fill="#222222" stroke="#222222" stroke-width="0.22" >Time of treatment (days)</text>
<text transform="translate(8.8,375.4) rotate(-90)" font-size="8.6" text-anchor="middle" fill="#222222" stroke="#222222" stroke-width="0.22">Tumor size (mm<tspan font-size="5.6" dy="-3">3</tspan><tspan dy="3">)</tspan></text>
<path d="M51.8,412.3V418.9M49.6,412.3H54.0M49.6,418.9H54.0M56.7,404.9V417.1M54.5,404.9H58.9M54.5,417.1H58.9M61.4,401.4V416.4M59.2,401.4H63.6M59.2,416.4H63.6M66.6,396.2V413.6M64.4,396.2H68.8M64.4,413.6H68.8M71.2,389.8V410.6M69.0,389.8H73.4M69.0,410.6H73.4M76.1,384.1V407.3M73.9,384.1H78.3M73.9,407.3H78.3M80.4,363.0V406.0M78.2,363.0H82.6M78.2,406.0H82.6M85.1,364.2V403.0M82.9,364.2H87.3M82.9,403.0H87.3M89.9,361.6V397.4M87.7,361.6H92.1M87.7,397.4H92.1M94.2,351.8V403.6M92.0,351.8H96.4M92.0,403.6H96.4M98.9,347.8V398.0M96.7,347.8H101.1M96.7,398.0H101.1M103.4,342.1V394.3M101.2,342.1H105.6M101.2,394.3H105.6M108.6,354.7V389.3M106.4,354.7H110.8M106.4,389.3H110.8M113.3,344.8V394.0M111.1,344.8H115.5M111.1,394.0H115.5" fill="none" stroke="#7272c4" stroke-width="0.9"/>
<polyline points="42.2,420.5 46.9,418.0 51.8,415.6 56.7,411.0 61.4,408.9 66.6,404.9 71.2,400.2 76.1,395.7 80.4,384.5 85.1,383.6 89.9,379.5 94.2,377.7 98.9,372.9 103.4,368.2 108.6,372.0 113.3,369.4" fill="none" stroke="#1a14c0" stroke-width="1.3" stroke-linejoin="round"/>
<g fill="#1a14c0"><circle cx="42.2" cy="420.5" r="2.5"/><circle cx="46.9" cy="418.0" r="2.5"/><circle cx="51.8" cy="415.6" r="2.5"/><circle cx="56.7" cy="411.0" r="2.5"/><circle cx="61.4" cy="408.9" r="2.5"/><circle cx="66.6" cy="404.9" r="2.5"/><circle cx="71.2" cy="400.2" r="2.5"/><circle cx="76.1" cy="395.7" r="2.5"/><circle cx="80.4" cy="384.5" r="2.5"/><circle cx="85.1" cy="383.6" r="2.5"/><circle cx="89.9" cy="379.5" r="2.5"/><circle cx="94.2" cy="377.7" r="2.5"/><circle cx="98.9" cy="372.9" r="2.5"/><circle cx="103.4" cy="368.2" r="2.5"/><circle cx="108.6" cy="372.0" r="2.5"/><circle cx="113.3" cy="369.4" r="2.5"/></g>
<path d="M42.2,417.6V421.1M40.2,417.6H44.2M40.2,421.1H44.2M44.5,417.9V421.4M42.5,417.9H46.5M42.5,421.4H46.5M46.9,418.1V421.6M44.9,418.1H48.9M44.9,421.6H48.9M49.2,418.7V422.2M47.2,418.7H51.2M47.2,422.2H51.2M51.6,419.6V423.1M49.6,419.6H53.6M49.6,423.1H53.6M53.9,421.5V425.1M51.9,421.5H55.9M51.9,425.1H55.9M56.2,423.5V427.0M54.2,423.5H58.2M54.2,427.0H58.2M58.6,424.7V428.2M56.6,424.7H60.6M56.6,428.2H60.6M60.9,425.3V428.8M58.9,425.3H62.9M58.9,428.8H62.9M65.6,426.0V429.6M63.6,426.0H67.6M63.6,429.6H67.6M70.3,426.6V430.2M68.3,426.6H72.3M68.3,430.2H72.3M75.0,426.8V430.4M73.0,426.8H77.0M73.0,430.4H77.0M79.6,427.4V431.0M77.6,427.4H81.6M77.6,431.0H81.6M84.3,428.2V431.7M82.3,428.2H86.3M82.3,431.7H86.3M89.0,428.2V431.7M87.0,428.2H91.0M87.0,431.7H91.0M93.7,428.3V431.8M91.7,428.3H95.7M91.7,431.8H95.7M98.4,428.4V431.9M96.4,428.4H100.4M96.4,431.9H100.4M103.0,428.4V431.9M101.0,428.4H105.0M101.0,431.9H105.0M107.7,428.6V432.1M105.7,428.6H109.7M105.7,432.1H109.7M112.4,428.6V432.1M110.4,428.6H114.4M110.4,432.1H114.4M117.1,428.8V432.3M115.1,428.8H119.1M115.1,432.3H119.1M121.8,428.8V432.3M119.8,428.8H123.8M119.8,432.3H123.8M121.8,428.3V434.3M119.8,428.3H123.8M119.8,434.3H123.8M126.4,429.3V435.3M124.4,429.3H128.4M124.4,435.3H128.4M131.9,425.6V431.6M129.9,425.6H133.9M129.9,431.6H133.9M136.8,426.5V432.5M134.8,426.5H138.8M134.8,432.5H138.8M141.6,425.1V431.1M139.6,425.1H143.6M139.6,431.1H143.6M145.9,422.9V428.9M143.9,422.9H147.9M143.9,428.9H147.9M150.7,421.4V427.4M148.7,421.4H152.7M148.7,427.4H152.7M155.1,421.0V427.0M153.1,421.0H157.1M153.1,427.0H157.1M159.8,415.8V423.1M157.8,415.8H161.8M157.8,423.1H161.8M164.8,411.2V423.1M162.8,411.2H166.8M162.8,423.1H166.8M169.3,410.3V423.1M167.3,410.3H171.3M167.3,423.1H171.3M173.9,405.4V419.5M171.9,405.4H175.9M171.9,419.5H175.9M178.5,400.3V420.4M176.5,400.3H180.5M176.5,420.4H180.5M183.0,396.6V418.6M181.0,396.6H185.0M181.0,418.6H185.0M188.0,390.2V415.8M186.0,390.2H190.0M186.0,415.8H190.0M192.7,384.8V415.8M190.7,384.8H194.7M190.7,415.8H194.7M197.6,383.8V408.0M195.6,383.8H199.6M195.6,408.0H199.6M202.2,375.6V408.0M200.2,375.6H204.2M200.2,408.0H204.2M207.1,361.6V403.0M205.1,361.6H209.1M205.1,403.0H209.1" fill="none" stroke="#de6468" stroke-width="0.9"/>
<polyline points="42.2,419.4 44.5,419.7 46.9,419.8 49.2,420.5 51.6,421.3 53.9,423.3 56.2,425.3 58.6,426.4 60.9,427.0 65.6,427.8 70.3,428.4 75.0,428.6 79.6,429.2 84.3,430.0 89.0,430.0 93.7,430.1 98.4,430.2 103.0,430.2 107.7,430.4 112.4,430.4 117.1,430.6 121.8,430.6 121.8,431.3 126.4,432.3 131.9,428.6 136.8,429.5 141.6,428.1 145.9,425.9 150.7,424.4 155.1,424.0 159.8,421.3 164.8,418.2 169.3,416.4 173.9,414.0 178.5,409.8 183.0,408.5 188.0,404.9 192.7,400.7 197.6,399.9 202.2,392.1 207.1,382.4" fill="none" stroke="#ea1c24" stroke-width="1.3" stroke-linejoin="round"/>
<g fill="#ea1c24"><circle cx="42.2" cy="419.4" r="2.4"/><circle cx="44.5" cy="419.7" r="2.4"/><circle cx="46.9" cy="419.8" r="2.4"/><circle cx="49.2" cy="420.5" r="2.4"/><circle cx="51.6" cy="421.3" r="2.4"/><circle cx="53.9" cy="423.3" r="2.4"/><circle cx="56.2" cy="425.3" r="2.4"/><circle cx="58.6" cy="426.4" r="2.4"/><circle cx="60.9" cy="427.0" r="2.4"/><circle cx="65.6" cy="427.8" r="2.4"/><circle cx="70.3" cy="428.4" r="2.4"/><circle cx="75.0" cy="428.6" r="2.4"/><circle cx="79.6" cy="429.2" r="2.4"/><circle cx="84.3" cy="430.0" r="2.4"/><circle cx="89.0" cy="430.0" r="2.4"/><circle cx="93.7" cy="430.1" r="2.4"/><circle cx="98.4" cy="430.2" r="2.4"/><circle cx="103.0" cy="430.2" r="2.4"/><circle cx="107.7" cy="430.4" r="2.4"/><circle cx="112.4" cy="430.4" r="2.4"/><circle cx="117.1" cy="430.6" r="2.4"/><circle cx="121.8" cy="430.6" r="2.4"/><circle cx="121.8" cy="431.3" r="2.4"/><circle cx="126.4" cy="432.3" r="2.4"/><circle cx="131.9" cy="428.6" r="2.4"/><circle cx="136.8" cy="429.5" r="2.4"/><circle cx="141.6" cy="428.1" r="2.4"/><circle cx="145.9" cy="425.9" r="2.4"/><circle cx="150.7" cy="424.4" r="2.4"/><circle cx="155.1" cy="424.0" r="2.4"/><circle cx="159.8" cy="421.3" r="2.4"/><circle cx="164.8" cy="418.2" r="2.4"/><circle cx="169.3" cy="416.4" r="2.4"/><circle cx="173.9" cy="414.0" r="2.4"/><circle cx="178.5" cy="409.8" r="2.4"/><circle cx="183.0" cy="408.5" r="2.4"/><circle cx="188.0" cy="404.9" r="2.4"/><circle cx="192.7" cy="400.7" r="2.4"/><circle cx="197.6" cy="399.9" r="2.4"/><circle cx="202.2" cy="392.1" r="2.4"/><circle cx="207.1" cy="382.4" r="2.4"/></g>
<text x="56.2" y="424.7" font-size="8.5" text-anchor="middle" font-weight="bold" font-family="DejaVu Sans, sans-serif" fill="#222">*</text>
<text x="61.4" y="424.7" font-size="8.5" text-anchor="middle" font-weight="bold" font-family="DejaVu Sans, sans-serif" fill="#222">*</text>
<text x="65.7" y="425.5" font-size="8.5" text-anchor="middle" font-weight="bold" font-family="DejaVu Sans, sans-serif" fill="#1a14c0">*</text>
<text x="70.0" y="425.7" font-size="8.0" text-anchor="middle" font-weight="bold" font-family="DejaVu Sans, sans-serif" fill="#ea1c24">*</text>
<text x="73.9" y="425.7" font-size="8.0" text-anchor="middle" font-weight="bold" font-family="DejaVu Sans, sans-serif" fill="#ea1c24">*</text>
<text x="77.8" y="428.5" font-size="8.0" text-anchor="middle" font-weight="bold" font-family="DejaVu Sans, sans-serif" fill="#ea1c24">*</text>
<text x="81.7" y="428.5" font-size="8.0" text-anchor="middle" font-weight="bold" font-family="DejaVu Sans, sans-serif" fill="#ea1c24">*</text>
<text x="85.6" y="428.5" font-size="8.0" text-anchor="middle" font-weight="bold" font-family="DejaVu Sans, sans-serif" fill="#ea1c24">*</text>
<text x="89.5" y="428.5" font-size="8.0" text-anchor="middle" font-weight="bold" font-family="DejaVu Sans, sans-serif" fill="#ea1c24">*</text>
<text x="93.4" y="428.5" font-size="8.0" text-anchor="middle" font-weight="bold" font-family="DejaVu Sans, sans-serif" fill="#ea1c24">*</text>
<text x="97.3" y="428.5" font-size="8.0" text-anchor="middle" font-weight="bold" font-family="DejaVu Sans, sans-serif" fill="#ea1c24">*</text>
<text x="101.2" y="428.5" font-size="8.0" text-anchor="middle" font-weight="bold" font-family="DejaVu Sans, sans-serif" fill="#ea1c24">*</text>
<text x="105.1" y="428.5" font-size="8.0" text-anchor="middle" font-weight="bold" font-family="DejaVu Sans, sans-serif" fill="#ea1c24">*</text>
<text x="109.0" y="428.5" font-size="8.0" text-anchor="middle" font-weight="bold" font-family="DejaVu Sans, sans-serif" fill="#ea1c24">*</text>
<polygon points="122.8,427.5 127.5,422.7 125.0,422.7 125.0,419.0 120.6,419.0 120.6,422.7 118.1,422.7" fill="#e8161b"/>
<polygon points="40.6,425.3 45.1,430.1 43.3,430.1 43.3,435.0 37.9,435.0 37.9,430.1 36.1,430.1" fill="#7cc242"/>
<text x="201.3" y="357.2" font-size="8.4" text-anchor="middle" font-weight="normal" fill="#222222" stroke="#222222" stroke-width="0.22" >9/9</text>
<line x1="144.4" y1="323.8" x2="156.0" y2="323.8" stroke="#1a14c0" stroke-width="1.3" />
<circle cx="150.2" cy="323.8" r="2.7" fill="#1a14c0"/>
<text x="163.7" y="327.1" font-size="9.2" text-anchor="start" font-weight="normal" fill="#222222" stroke="#222222" stroke-width="0.22" >Control</text>
<line x1="144.4" y1="336.9" x2="156.0" y2="336.9" stroke="#ea1c24" stroke-width="1.3" />
<circle cx="150.2" cy="336.9" r="2.7" fill="#ea1c24"/>
<text x="163.7" y="340.2" font-size="9.2" text-anchor="start" font-weight="normal" fill="#222222" stroke="#222222" stroke-width="0.22" >Gefitinib</text>
<text x="0.5" y="482.7" font-size="17.6" text-anchor="start" font-weight="bold" fill="#000" >D</text>
<text x="121.0" y="482.4" font-size="10" text-anchor="middle" font-weight="bold" fill="#111" stroke="#111" stroke-width="0.25" >SCC24-PDX</text>
<line x1="40.8" y1="488.0" x2="40.8" y2="605.3" stroke="#555555" stroke-width="1" />
<line x1="37.8" y1="605.3" x2="40.8" y2="605.3" stroke="#555555" stroke-width="1" />
<text x="36.3" y="608.3" font-size="8.4" text-anchor="end" font-weight="normal" fill="#222222" stroke="#222222" stroke-width="0.22" >0</text>
<line x1="37.8" y1="566.2" x2="40.8" y2="566.2" stroke="#555555" stroke-width="1" />
<text x="36.3" y="569.2" font-size="8.4" text-anchor="end" font-weight="normal" fill="#222222" stroke="#222222" stroke-width="0.22" >1,000</text>
<line x1="37.8" y1="527.1" x2="40.8" y2="527.1" stroke="#555555" stroke-width="1" />
<text x="36.3" y="530.1" font-size="8.4" text-anchor="end" font-weight="normal" fill="#222222" stroke="#222222" stroke-width="0.22" >2,000</text>
<line x1="37.8" y1="488.0" x2="40.8" y2="488.0" stroke="#555555" stroke-width="1" />
<text x="36.3" y="491.0" font-size="8.4" text-anchor="end" font-weight="normal" fill="#222222" stroke="#222222" stroke-width="0.22" >3,000</text>
<line x1="40.8" y1="605.3" x2="208.8" y2="605.3" stroke="#555555" stroke-width="1" />
<line x1="52.0" y1="605.3" x2="52.0" y2="608.3" stroke="#555555" stroke-width="1" />
<text x="52.0" y="617.8" font-size="8.4" text-anchor="middle" font-weight="normal" fill="#222222" stroke="#222222" stroke-width="0.22" >2</text>
<line x1="66.9" y1="605.3" x2="66.9" y2="608.3" stroke="#555555" stroke-width="1" />
<text x="66.9" y="617.8" font-size="8.4" text-anchor="middle" font-weight="normal" fill="#222222" stroke="#222222" stroke-width="0.22" >8</text>
<line x1="81.8" y1="605.3" x2="81.8" y2="608.3" stroke="#555555" stroke-width="1" />
<text x="81.8" y="617.8" font-size="8.4" text-anchor="middle" font-weight="normal" fill="#222222" stroke="#222222" stroke-width="0.22" >14</text>
<line x1="96.7" y1="605.3" x2="96.7" y2="608.3" stroke="#555555" stroke-width="1" />
<text x="96.7" y="617.8" font-size="8.4" text-anchor="middle" font-weight="normal" fill="#222222" stroke="#222222" stroke-width="0.22" >20</text>
<line x1="111.6" y1="605.3" x2="111.6" y2="608.3" stroke="#555555" stroke-width="1" />
<text x="111.6" y="617.8" font-size="8.4" text-anchor="middle" font-weight="normal" fill="#222222" stroke="#222222" stroke-width="0.22" >26</text>
<line x1="126.5" y1="605.3" x2="126.5" y2="608.3" stroke="#555555" stroke-width="1" />
<text x="126.5" y="617.8" font-size="8.4" text-anchor="middle" font-weight="normal" fill="#222222" stroke="#222222" stroke-width="0.22" >30</text>
<line x1="141.4" y1="605.3" x2="141.4" y2="608.3" stroke="#555555" stroke-width="1" />
<text x="141.4" y="617.8" font-size="8.4" text-anchor="middle" font-weight="normal" fill="#222222" stroke="#222222" stroke-width="0.22" >36</text>
<line x1="156.3" y1="605.3" x2="156.3" y2="608.3" stroke="#555555" stroke-width="1" />
<text x="156.3" y="617.8" font-size="8.4" text-anchor="middle" font-weight="normal" fill="#222222" stroke="#222222" stroke-width="0.22" >42</text>
<line x1="171.2" y1="605.3" x2="171.2" y2="608.3" stroke="#555555" stroke-width="1" />
<text x="171.2" y="617.8" font-size="8.4" text-anchor="middle" font-weight="normal" fill="#222222" stroke="#222222" stroke-width="0.22" >48</text>
<line x1="186.1" y1="605.3" x2="186.1" y2="608.3" stroke="#555555" stroke-width="1" />
<text x="186.1" y="617.8" font-size="8.4" text-anchor="middle" font-weight="normal" fill="#222222" stroke="#222222" stroke-width="0.22" >54</text>
<line x1="201.0" y1="605.3" x2="201.0" y2="608.3" stroke="#555555" stroke-width="1" />
<text x="201.0" y="617.8" font-size="8.4" text-anchor="middle" font-weight="normal" fill="#222222" stroke="#222222" stroke-width="0.22" >60</text>
<text x="127.5" y="628.5" font-size="8.6" text-anchor="middle" font-weight="normal" fill="#222222" stroke="#222222" stroke-width="0.22" >Time of treatment (days)</text>
<text transform="translate(8.8,546.6) rotate(-90)" font-size="8.6" text-anchor="middle" fill="#222222" stroke="#222222" stroke-width="0.22">Tumor size (mm<tspan font-size="5.6" dy="-3">3</tspan><tspan dy="3">)</tspan></text>
<path d="M52.7,579.4V591.5M50.5,579.4H54.9M50.5,591.5H54.9M60.0,569.6V586.3M57.8,569.6H62.2M57.8,586.3H62.2M67.4,554.0V581.2M65.2,554.0H69.6M65.2,581.2H69.6M74.9,539.3V575.6M72.7,539.3H77.1M72.7,575.6H77.1M82.5,518.5V565.2M80.3,518.5H84.7M80.3,565.2H84.7M89.9,522.3V566.4M87.7,522.3H92.1M87.7,566.4H92.1M97.4,508.5V559.5M95.2,508.5H99.6M95.2,559.5H99.6" fill="none" stroke="#7272c4" stroke-width="0.9"/>
<polyline points="44.9,590.7 52.7,586.0 60.0,579.1 67.4,568.2 74.9,557.4 82.5,541.7 89.9,544.8 97.4,534.1" fill="none" stroke="#1a14c0" stroke-width="1.3" stroke-linejoin="round"/>
<g fill="#1a14c0"><circle cx="44.9" cy="590.7" r="2.6"/><circle cx="52.7" cy="586.0" r="2.6"/><circle cx="60.0" cy="579.1" r="2.6"/><circle cx="67.4" cy="568.2" r="2.6"/><circle cx="74.9" cy="557.4" r="2.6"/><circle cx="82.5" cy="541.7" r="2.6"/><circle cx="89.9" cy="544.8" r="2.6"/><circle cx="97.4" cy="534.1" r="2.6"/></g>
<path d="M44.9,588.2V593.2M42.9,588.2H46.9M42.9,593.2H46.9M52.7,592.8V597.8M50.7,592.8H54.7M50.7,597.8H54.7M60.0,594.2V599.2M58.0,594.2H62.0M58.0,599.2H62.0M67.4,594.2V599.2M65.4,594.2H69.4M65.4,599.2H69.4M74.9,595.6V600.6M72.9,595.6H76.9M72.9,600.6H76.9M82.5,595.6V600.6M80.5,595.6H84.5M80.5,600.6H84.5M89.9,595.6V600.6M87.9,595.6H91.9M87.9,600.6H91.9M97.4,595.1V600.1M95.4,595.1H99.4M95.4,600.1H99.4M105.0,595.6V600.6M103.0,595.6H107.0M103.0,600.6H107.0M112.4,596.0V601.0M110.4,596.0H114.4M110.4,601.0H114.4M119.7,595.1V600.1M117.7,595.1H121.7M117.7,600.1H121.7M127.3,593.5V598.5M125.3,593.5H129.3M125.3,598.5H129.3M134.6,593.8V598.8M132.6,593.8H136.6M132.6,598.8H136.6M142.3,590.5V598.5M140.3,590.5H144.3M140.3,598.5H144.3M149.6,589.9V598.5M147.6,589.9H151.6M147.6,598.5H151.6M157.1,585.0V597.3M155.1,585.0H159.1M155.1,597.3H159.1M164.8,586.3V595.4M162.8,586.3H166.8M162.8,595.4H166.8M172.1,576.8V594.1M170.1,576.8H174.1M170.1,594.1H174.1M179.4,563.5V586.3M177.4,563.5H181.4M177.4,586.3H181.4M187.2,551.2V582.1M185.2,551.2H189.2M185.2,582.1H189.2M194.5,528.4V571.1M192.5,528.4H196.5M192.5,571.1H196.5M202.2,523.3V561.6M200.2,523.3H204.2M200.2,561.6H204.2" fill="none" stroke="#de6468" stroke-width="0.9"/>
<polyline points="44.9,590.7 52.7,595.3 60.0,596.7 67.4,596.7 74.9,598.1 82.5,598.1 89.9,598.1 97.4,597.6 105.0,598.1 112.4,598.5 119.7,597.6 127.3,596.0 134.6,596.3 142.3,594.5 149.6,594.5 157.1,590.9 164.8,590.5 172.1,585.0 179.4,575.0 187.2,567.1 194.5,549.8 202.2,542.8" fill="none" stroke="#ea1c24" stroke-width="1.3" stroke-linejoin="round"/>
<g fill="#ea1c24"><circle cx="44.9" cy="590.7" r="2.6"/><circle cx="52.7" cy="595.3" r="2.6"/><circle cx="60.0" cy="596.7" r="2.6"/><circle cx="67.4" cy="596.7" r="2.6"/><circle cx="74.9" cy="598.1" r="2.6"/><circle cx="82.5" cy="598.1" r="2.6"/><circle cx="89.9" cy="598.1" r="2.6"/><circle cx="97.4" cy="597.6" r="2.6"/><circle cx="105.0" cy="598.1" r="2.6"/><circle cx="112.4" cy="598.5" r="2.6"/><circle cx="119.7" cy="597.6" r="2.6"/><circle cx="127.3" cy="596.0" r="2.6"/><circle cx="134.6" cy="596.3" r="2.6"/><circle cx="142.3" cy="594.5" r="2.6"/><circle cx="149.6" cy="594.5" r="2.6"/><circle cx="157.1" cy="590.9" r="2.6"/><circle cx="164.8" cy="590.5" r="2.6"/><circle cx="172.1" cy="585.0" r="2.6"/><circle cx="179.4" cy="575.0" r="2.6"/><circle cx="187.2" cy="567.1" r="2.6"/><circle cx="194.5" cy="549.8" r="2.6"/><circle cx="202.2" cy="542.8" r="2.6"/></g>
<text x="59.6" y="592.1" font-size="11" text-anchor="middle" font-weight="bold" font-family="DejaVu Sans, sans-serif" fill="#222">*</text>
<text x="67.4" y="593.8" font-size="11" text-anchor="middle" font-weight="bold" font-family="DejaVu Sans, sans-serif" fill="#ea1c24">*</text>
<text x="74.9" y="593.8" font-size="11" text-anchor="middle" font-weight="bold" font-family="DejaVu Sans, sans-serif" fill="#ea1c24">*</text>
<text x="82.5" y="593.8" font-size="11" text-anchor="middle" font-weight="bold" font-family="DejaVu Sans, sans-serif" fill="#ea1c24">*</text>
<text x="89.9" y="593.8" font-size="11" text-anchor="middle" font-weight="bold" font-family="DejaVu Sans, sans-serif" fill="#ea1c24">*</text>
<text x="97.4" y="593.8" font-size="11" text-anchor="middle" font-weight="bold" font-family="DejaVu Sans, sans-serif" fill="#ea1c24">*</text>
<polygon points="119.7,593.5 124.4,588.5 121.9,588.5 121.9,584.5 117.5,584.5 117.5,588.5 115.0,588.5" fill="#e8161b"/>
<polygon points="45.4,595.6 49.9,599.6 48.1,599.6 48.1,603.6 42.7,603.6 42.7,599.6 40.9,599.6" fill="#7cc242"/>
<text x="189.0" y="524.8" font-size="8.4" text-anchor="middle" font-weight="normal" fill="#222222" stroke="#222222" stroke-width="0.22" >11/11</text>
<line x1="135.7" y1="495.4" x2="148.1" y2="495.4" stroke="#1a14c0" stroke-width="1.3" />
<circle cx="141.9" cy="495.4" r="2.7" fill="#1a14c0"/>
<text x="155.4" y="498.7" font-size="9.2" text-anchor="start" font-weight="normal" fill="#222222" stroke="#222222" stroke-width="0.22" >Control</text>
<line x1="135.7" y1="509.6" x2="148.1" y2="509.6" stroke="#ea1c24" stroke-width="1.3" />
<circle cx="141.9" cy="509.6" r="2.7" fill="#ea1c24"/>
<text x="155.4" y="512.9" font-size="9.2" text-anchor="start" font-weight="normal" fill="#222222" stroke="#222222" stroke-width="0.22" >Gefitinib</text>
<text x="0.5" y="652.7" font-size="17.6" text-anchor="start" font-weight="bold" fill="#000" >E</text>
<text x="125.4" y="653.6" font-size="10" text-anchor="middle" font-weight="bold" fill="#111" stroke="#111" stroke-width="0.25" >SCC34-PDX</text>
<line x1="41.8" y1="659.8" x2="41.8" y2="776.8" stroke="#555555" stroke-width="1" />
<line x1="38.8" y1="776.8" x2="41.8" y2="776.8" stroke="#555555" stroke-width="1" />
<text x="37.3" y="779.8" font-size="8.4" text-anchor="end" font-weight="normal" fill="#222222" stroke="#222222" stroke-width="0.22" >0</text>
<line x1="38.8" y1="737.8" x2="41.8" y2="737.8" stroke="#555555" stroke-width="1" />
<text x="37.3" y="740.8" font-size="8.4" text-anchor="end" font-weight="normal" fill="#222222" stroke="#222222" stroke-width="0.22" >1,000</text>
<line x1="38.8" y1="698.8" x2="41.8" y2="698.8" stroke="#555555" stroke-width="1" />
<text x="37.3" y="701.8" font-size="8.4" text-anchor="end" font-weight="normal" fill="#222222" stroke="#222222" stroke-width="0.22" >2,000</text>
<line x1="38.8" y1="659.8" x2="41.8" y2="659.8" stroke="#555555" stroke-width="1" />
<text x="37.3" y="662.8" font-size="8.4" text-anchor="end" font-weight="normal" fill="#222222" stroke="#222222" stroke-width="0.22" >3,000</text>
<line x1="41.8" y1="776.8" x2="210.8" y2="776.8" stroke="#555555" stroke-width="1" />
<line x1="42.5" y1="776.8" x2="42.5" y2="779.8" stroke="#555555" stroke-width="1" />
<text x="42.5" y="790.0" font-size="8.4" text-anchor="middle" font-weight="normal" fill="#222222" stroke="#222222" stroke-width="0.22" >0</text>
<line x1="62.7" y1="776.8" x2="62.7" y2="779.8" stroke="#555555" stroke-width="1" />
<text x="62.7" y="790.0" font-size="8.4" text-anchor="middle" font-weight="normal" fill="#222222" stroke="#222222" stroke-width="0.22" >4</text>
<line x1="83.0" y1="776.8" x2="83.0" y2="779.8" stroke="#555555" stroke-width="1" />
<text x="83.0" y="790.0" font-size="8.4" text-anchor="middle" font-weight="normal" fill="#222222" stroke="#222222" stroke-width="0.22" >8</text>
<line x1="103.2" y1="776.8" x2="103.2" y2="779.8" stroke="#555555" stroke-width="1" />
<text x="103.2" y="790.0" font-size="8.4" text-anchor="middle" font-weight="normal" fill="#222222" stroke="#222222" stroke-width="0.22" >12</text>
<line x1="123.5" y1="776.8" x2="123.5" y2="779.8" stroke="#555555" stroke-width="1" />
<text x="123.5" y="790.0" font-size="8.4" text-anchor="middle" font-weight="normal" fill="#222222" stroke="#222222" stroke-width="0.22" >16</text>
<line x1="143.7" y1="776.8" x2="143.7" y2="779.8" stroke="#555555" stroke-width="1" />
<text x="143.7" y="790.0" font-size="8.4" text-anchor="middle" font-weight="normal" fill="#222222" stroke="#222222" stroke-width="0.22" >20</text>
<line x1="163.9" y1="776.8" x2="163.9" y2="779.8" stroke="#555555" stroke-width="1" />
<text x="163.9" y="790.0" font-size="8.4" text-anchor="middle" font-weight="normal" fill="#222222" stroke="#222222" stroke-width="0.22" >24</text>
<line x1="184.2" y1="776.8" x2="184.2" y2="779.8" stroke="#555555" stroke-width="1" />
<text x="184.2" y="790.0" font-size="8.4" text-anchor="middle" font-weight="normal" fill="#222222" stroke="#222222" stroke-width="0.22" >28</text>
<line x1="204.4" y1="776.8" x2="204.4" y2="779.8" stroke="#555555" stroke-width="1" />
<text x="204.4" y="790.0" font-size="8.4" text-anchor="middle" font-weight="normal" fill="#222222" stroke="#222222" stroke-width="0.22" >32</text>
<text x="127.5" y="800.0" font-size="8.6" text-anchor="middle" font-weight="normal" fill="#222222" stroke="#222222" stroke-width="0.22" >Time of treatment (days)</text>
<text transform="translate(8.8,718.3) rotate(-90)" font-size="8.6" text-anchor="middle" fill="#222222" stroke="#222222" stroke-width="0.22">Tumor size (mm<tspan font-size="5.6" dy="-3">3</tspan><tspan dy="3">)</tspan></text>
<path d="M52.6,755.8V760.6M50.4,755.8H54.8M50.4,760.6H54.8M62.7,753.9V758.3M60.5,753.9H64.9M60.5,758.3H64.9M72.9,747.2V757.4M70.7,747.2H75.1M70.7,757.4H75.1M83.0,744.6V753.2M80.8,744.6H85.2M80.8,753.2H85.2M93.1,730.7V752.9M90.9,730.7H95.3M90.9,752.9H95.3M103.2,730.2V747.4M101.0,730.2H105.4M101.0,747.4H105.4M113.3,728.5V744.7M111.1,728.5H115.5M111.1,744.7H115.5M123.5,724.4V743.9M121.3,724.4H125.7M121.3,743.9H125.7M133.6,717.4V739.4M131.4,717.4H135.8M131.4,739.4H135.8M143.7,717.4V738.5M141.5,717.4H145.9M141.5,738.5H145.9M153.8,716.2V734.4M151.6,716.2H156.0M151.6,734.4H156.0M163.9,707.0V735.7M161.7,707.0H166.1M161.7,735.7H166.1M174.1,700.6V727.9M171.9,700.6H176.3M171.9,727.9H176.3M184.2,705.2V727.1M182.0,705.2H186.4M182.0,727.1H186.4M204.4,680.0V722.9M202.2,680.0H206.6M202.2,722.9H206.6" fill="none" stroke="#7272c4" stroke-width="0.9"/>
<polyline points="42.5,762.7 52.6,758.2 62.7,756.1 72.9,752.3 83.0,748.9 93.1,741.8 103.2,738.8 113.3,736.6 123.5,734.3 133.6,729.3 143.7,728.4 153.8,725.3 163.9,721.7 174.1,713.4 184.2,716.5 204.4,701.4" fill="none" stroke="#1a14c0" stroke-width="1.3" stroke-linejoin="round"/>
<g fill="#1a14c0"><circle cx="42.5" cy="762.7" r="2.6"/><circle cx="52.6" cy="758.2" r="2.6"/><circle cx="62.7" cy="756.1" r="2.6"/><circle cx="72.9" cy="752.3" r="2.6"/><circle cx="83.0" cy="748.9" r="2.6"/><circle cx="93.1" cy="741.8" r="2.6"/><circle cx="103.2" cy="738.8" r="2.6"/><circle cx="113.3" cy="736.6" r="2.6"/><circle cx="123.5" cy="734.3" r="2.6"/><circle cx="133.6" cy="729.3" r="2.6"/><circle cx="143.7" cy="728.4" r="2.6"/><circle cx="153.8" cy="725.3" r="2.6"/><circle cx="163.9" cy="721.7" r="2.6"/><circle cx="174.1" cy="713.4" r="2.6"/><circle cx="184.2" cy="716.5" r="2.6"/><circle cx="204.4" cy="701.4" r="2.6"/></g>
<path d="M52.6,759.5V763.1M50.6,759.5H54.6M50.6,763.1H54.6M62.7,756.3V765.3M60.7,756.3H64.7M60.7,765.3H64.7M72.9,754.6V763.6M70.9,754.6H74.9M70.9,763.6H74.9M83.0,752.6V762.2M81.0,752.6H85.0M81.0,762.2H85.0M93.1,744.5V762.7M91.1,744.5H95.1M91.1,762.7H95.1M103.2,740.2V760.0M101.2,740.2H105.2M101.2,760.0H105.2M113.3,739.8V756.2M111.3,739.8H115.3M111.3,756.2H115.3M123.5,742.5V754.5M121.5,742.5H125.5M121.5,754.5H125.5M133.6,737.7V753.1M131.6,737.7H135.6M131.6,753.1H135.6M143.7,736.4V752.2M141.7,736.4H145.7M141.7,752.2H145.7M153.8,726.1V750.9M151.8,726.1H155.8M151.8,750.9H155.8M163.9,722.8V747.6M161.9,722.8H165.9M161.9,747.6H165.9M174.1,732.7V746.1M172.1,732.7H176.1M172.1,746.1H176.1M184.2,727.6V749.4M182.2,727.6H186.2M182.2,749.4H186.2M194.3,706.7V749.1M192.3,706.7H196.3M192.3,749.1H196.3M204.4,715.1V754.5M202.4,715.1H206.4M202.4,754.5H206.4" fill="none" stroke="#de6468" stroke-width="0.9"/>
<polyline points="42.5,762.7 52.6,761.3 62.7,760.8 72.9,759.1 83.0,757.4 93.1,753.6 103.2,750.1 113.3,748.0 123.5,748.5 133.6,745.4 143.7,744.3 153.8,738.5 163.9,735.2 174.1,739.4 184.2,738.5 194.3,727.9 204.4,734.8" fill="none" stroke="#ea1c24" stroke-width="1.3" stroke-linejoin="round"/>
<g fill="#ea1c24"><circle cx="42.5" cy="762.7" r="2.6"/><circle cx="52.6" cy="761.3" r="2.6"/><circle cx="62.7" cy="760.8" r="2.6"/><circle cx="72.9" cy="759.1" r="2.6"/><circle cx="83.0" cy="757.4" r="2.6"/><circle cx="93.1" cy="753.6" r="2.6"/><circle cx="103.2" cy="750.1" r="2.6"/><circle cx="113.3" cy="748.0" r="2.6"/><circle cx="123.5" cy="748.5" r="2.6"/><circle cx="133.6" cy="745.4" r="2.6"/><circle cx="143.7" cy="744.3" r="2.6"/><circle cx="153.8" cy="738.5" r="2.6"/><circle cx="163.9" cy="735.2" r="2.6"/><circle cx="174.1" cy="739.4" r="2.6"/><circle cx="184.2" cy="738.5" r="2.6"/><circle cx="194.3" cy="727.9" r="2.6"/><circle cx="204.4" cy="734.8" r="2.6"/></g>
<text x="113.3" y="768.5" font-size="11" text-anchor="middle" font-weight="bold" font-family="DejaVu Sans, sans-serif" fill="#222">*</text>
<text x="123.3" y="766.2" font-size="11" text-anchor="middle" font-weight="bold" font-family="DejaVu Sans, sans-serif" fill="#ea1c24">*</text>
<text x="133.3" y="765.2" font-size="11" text-anchor="middle" font-weight="bold" font-family="DejaVu Sans, sans-serif" fill="#222">*</text>
<text x="143.4" y="763.4" font-size="11" text-anchor="middle" font-weight="bold" font-family="DejaVu Sans, sans-serif" fill="#1a14c0">*</text>
<text x="153.8" y="762.1" font-size="11" text-anchor="middle" font-weight="bold" font-family="DejaVu Sans, sans-serif" fill="#ea1c24">*</text>
<text x="163.8" y="760.3" font-size="11" text-anchor="middle" font-weight="bold" font-family="DejaVu Sans, sans-serif" fill="#ea1c24">*</text>
<text x="173.9" y="759.8" font-size="11" text-anchor="middle" font-weight="bold" font-family="DejaVu Sans, sans-serif" fill="#ea1c24">*</text>
<text x="184.3" y="761.0" font-size="11" text-anchor="middle" font-weight="bold" font-family="DejaVu Sans, sans-serif" fill="#ea1c24">*</text>
<text x="204.4" y="765.8" font-size="11" text-anchor="middle" font-weight="bold" font-family="DejaVu Sans, sans-serif" fill="#ea1c24">*</text>
<polygon points="41.8,766.5 46.3,770.9 44.5,770.9 44.5,775.3 39.1,775.3 39.1,770.9 37.3,770.9" fill="#7cc242"/>
<line x1="54.5" y1="669.3" x2="66.5" y2="669.3" stroke="#1a14c0" stroke-width="1.3" />
<circle cx="60.5" cy="669.3" r="2.7" fill="#1a14c0"/>
<text x="72.5" y="672.6" font-size="9.2" text-anchor="start" font-weight="normal" fill="#222222" stroke="#222222" stroke-width="0.22" >Control</text>
<line x1="54.5" y1="682.8" x2="66.5" y2="682.8" stroke="#ea1c24" stroke-width="1.3" />
<circle cx="60.5" cy="682.8" r="2.7" fill="#ea1c24"/>
<text x="72.5" y="686.1" font-size="9.2" text-anchor="start" font-weight="normal" fill="#222222" stroke="#222222" stroke-width="0.22" >Gefitinib</text>
<text x="238.8" y="142.5" font-size="17.6" text-anchor="start" font-weight="bold" fill="#000" >F</text>
<line x1="287.2" y1="149.1" x2="287.2" y2="266.3" stroke="#555555" stroke-width="1" />
<line x1="284.2" y1="266.3" x2="287.2" y2="266.3" stroke="#555555" stroke-width="1" />
<text x="282.7" y="269.3" font-size="8.4" text-anchor="end" font-weight="normal" fill="#222222" stroke="#222222" stroke-width="0.22" >0</text>
<line x1="284.2" y1="246.8" x2="287.2" y2="246.8" stroke="#555555" stroke-width="1" />
<text x="282.7" y="249.8" font-size="8.4" text-anchor="end" font-weight="normal" fill="#222222" stroke="#222222" stroke-width="0.22" >500</text>
<line x1="284.2" y1="227.2" x2="287.2" y2="227.2" stroke="#555555" stroke-width="1" />
<text x="282.7" y="230.2" font-size="8.4" text-anchor="end" font-weight="normal" fill="#222222" stroke="#222222" stroke-width="0.22" >1,000</text>
<line x1="284.2" y1="207.7" x2="287.2" y2="207.7" stroke="#555555" stroke-width="1" />
<text x="282.7" y="210.7" font-size="8.4" text-anchor="end" font-weight="normal" fill="#222222" stroke="#222222" stroke-width="0.22" >1,500</text>
<line x1="284.2" y1="188.2" x2="287.2" y2="188.2" stroke="#555555" stroke-width="1" />
<text x="282.7" y="191.2" font-size="8.4" text-anchor="end" font-weight="normal" fill="#222222" stroke="#222222" stroke-width="0.22" >2,000</text>
<line x1="284.2" y1="168.6" x2="287.2" y2="168.6" stroke="#555555" stroke-width="1" />
<text x="282.7" y="171.6" font-size="8.4" text-anchor="end" font-weight="normal" fill="#222222" stroke="#222222" stroke-width="0.22" >2,500</text>
<line x1="284.2" y1="149.1" x2="287.2" y2="149.1" stroke="#555555" stroke-width="1" />
<text x="282.7" y="152.1" font-size="8.4" text-anchor="end" font-weight="normal" fill="#222222" stroke="#222222" stroke-width="0.22" >3,000</text>
<text transform="translate(254.9,208.2) rotate(-90)" font-size="8.6" text-anchor="middle" fill="#222222" stroke="#222222" stroke-width="0.22">Tumor size (mm<tspan font-size="5.6" dy="-3">3</tspan><tspan dy="3">)</tspan></text>
<text x="370.7" y="143.6" font-size="10" text-anchor="middle" font-weight="bold" fill="#111" stroke="#111" stroke-width="0.25" >SCC10-PDX</text>
<line x1="287.2" y1="266.3" x2="462.0" y2="266.3" stroke="#555555" stroke-width="1" />
<line x1="287.6" y1="266.3" x2="287.6" y2="269.3" stroke="#555555" stroke-width="1" />
<text x="287.6" y="278.8" font-size="8.4" text-anchor="middle" font-weight="normal" fill="#222222" stroke="#222222" stroke-width="0.22" >0</text>
<line x1="304.9" y1="266.3" x2="304.9" y2="269.3" stroke="#555555" stroke-width="1" />
<text x="304.9" y="278.8" font-size="8.4" text-anchor="middle" font-weight="normal" fill="#222222" stroke="#222222" stroke-width="0.22" >5</text>
<line x1="322.2" y1="266.3" x2="322.2" y2="269.3" stroke="#555555" stroke-width="1" />
<text x="322.2" y="278.8" font-size="8.4" text-anchor="middle" font-weight="normal" fill="#222222" stroke="#222222" stroke-width="0.22" >10</text>
<line x1="339.5" y1="266.3" x2="339.5" y2="269.3" stroke="#555555" stroke-width="1" />
<text x="339.5" y="278.8" font-size="8.4" text-anchor="middle" font-weight="normal" fill="#222222" stroke="#222222" stroke-width="0.22" >15</text>
<line x1="356.8" y1="266.3" x2="356.8" y2="269.3" stroke="#555555" stroke-width="1" />
<text x="356.8" y="278.8" font-size="8.4" text-anchor="middle" font-weight="normal" fill="#222222" stroke="#222222" stroke-width="0.22" >20</text>
<line x1="374.1" y1="266.3" x2="374.1" y2="269.3" stroke="#555555" stroke-width="1" />
<text x="374.1" y="278.8" font-size="8.4" text-anchor="middle" font-weight="normal" fill="#222222" stroke="#222222" stroke-width="0.22" >25</text>
<line x1="391.4" y1="266.3" x2="391.4" y2="269.3" stroke="#555555" stroke-width="1" />
<text x="391.4" y="278.8" font-size="8.4" text-anchor="middle" font-weight="normal" fill="#222222" stroke="#222222" stroke-width="0.22" >30</text>
<line x1="408.7" y1="266.3" x2="408.7" y2="269.3" stroke="#555555" stroke-width="1" />
<text x="408.7" y="278.8" font-size="8.4" text-anchor="middle" font-weight="normal" fill="#222222" stroke="#222222" stroke-width="0.22" >35</text>
<line x1="426.0" y1="266.3" x2="426.0" y2="269.3" stroke="#555555" stroke-width="1" />
<text x="426.0" y="278.8" font-size="8.4" text-anchor="middle" font-weight="normal" fill="#222222" stroke="#222222" stroke-width="0.22" >40</text>
<line x1="443.3" y1="266.3" x2="443.3" y2="269.3" stroke="#555555" stroke-width="1" />
<text x="443.3" y="278.8" font-size="8.4" text-anchor="middle" font-weight="normal" fill="#222222" stroke="#222222" stroke-width="0.22" >45</text>
<line x1="460.6" y1="266.3" x2="460.6" y2="269.3" stroke="#555555" stroke-width="1" />
<text x="460.6" y="278.8" font-size="8.4" text-anchor="middle" font-weight="normal" fill="#222222" stroke="#222222" stroke-width="0.22" >50</text>
<text x="377.7" y="289.0" font-size="8.6" text-anchor="middle" font-weight="normal" fill="#222222" stroke="#222222" stroke-width="0.22" >Time of treatment (days)</text>
<path d="M287.6,248.0V262.0M285.4,248.0H289.8M285.4,262.0H289.8M294.5,247.3V263.3M292.3,247.3H296.7M292.3,263.3H296.7M301.4,245.2V257.2M299.2,245.2H303.6M299.2,257.2H303.6M308.4,243.7V257.7M306.2,243.7H310.6M306.2,257.7H310.6M315.3,242.7V258.7M313.1,242.7H317.5M313.1,258.7H317.5M322.2,243.9V259.9M320.0,243.9H324.4M320.0,259.9H324.4M329.1,240.3V254.3M326.9,240.3H331.3M326.9,254.3H331.3M336.0,238.5V254.5M333.8,238.5H338.2M333.8,254.5H338.2M343.0,238.5V254.5M340.8,238.5H345.2M340.8,254.5H345.2M349.9,237.5V255.5M347.7,237.5H352.1M347.7,255.5H352.1M356.8,235.2V253.2M354.6,235.2H359.0M354.6,253.2H359.0M363.7,237.5V255.5M361.5,237.5H365.9M361.5,255.5H365.9M370.6,235.1V255.1M368.4,235.1H372.8M368.4,255.1H372.8M377.6,227.0V245.0M375.4,227.0H379.8M375.4,245.0H379.8M384.5,226.3V246.3M382.3,226.3H386.7M382.3,246.3H386.7M391.4,224.6V242.6M389.2,224.6H393.6M389.2,242.6H393.6M398.3,222.8V240.8M396.1,222.8H400.5M396.1,240.8H400.5M405.2,219.0V241.0M403.0,219.0H407.4M403.0,241.0H407.4M412.2,218.5V242.5M410.0,218.5H414.4M410.0,242.5H414.4M419.1,211.2V235.2M416.9,211.2H421.3M416.9,235.2H421.3M426.0,192.6V240.6M423.8,192.6H428.2M423.8,240.6H428.2M432.9,199.3V219.3M430.7,199.3H435.1M430.7,219.3H435.1M439.8,202.1V226.1M437.6,202.1H442.0M437.6,226.1H442.0" fill="none" stroke="#62c262" stroke-width="0.9"/>
<polyline points="287.6,255.0 294.5,255.3 301.4,251.2 308.4,250.7 315.3,250.7 322.2,251.9 329.1,247.3 336.0,246.5 343.0,246.5 349.9,246.5 356.8,244.2 363.7,246.5 370.6,245.1 377.6,236.0 384.5,236.3 391.4,233.6 398.3,231.8 405.2,230.0 412.2,230.5 419.1,223.2 426.0,216.6 432.9,209.3 439.8,214.1" fill="none" stroke="#26ae26" stroke-width="1.3" stroke-linejoin="round"/>
<g fill="#26ae26"><circle cx="287.6" cy="255.0" r="2.6"/><circle cx="294.5" cy="255.3" r="2.6"/><circle cx="301.4" cy="251.2" r="2.6"/><circle cx="308.4" cy="250.7" r="2.6"/><circle cx="315.3" cy="250.7" r="2.6"/><circle cx="322.2" cy="251.9" r="2.6"/><circle cx="329.1" cy="247.3" r="2.6"/><circle cx="336.0" cy="246.5" r="2.6"/><circle cx="343.0" cy="246.5" r="2.6"/><circle cx="349.9" cy="246.5" r="2.6"/><circle cx="356.8" cy="244.2" r="2.6"/><circle cx="363.7" cy="246.5" r="2.6"/><circle cx="370.6" cy="245.1" r="2.6"/><circle cx="377.6" cy="236.0" r="2.6"/><circle cx="384.5" cy="236.3" r="2.6"/><circle cx="391.4" cy="233.6" r="2.6"/><circle cx="398.3" cy="231.8" r="2.6"/><circle cx="405.2" cy="230.0" r="2.6"/><circle cx="412.2" cy="230.5" r="2.6"/><circle cx="419.1" cy="223.2" r="2.6"/><circle cx="426.0" cy="216.6" r="2.6"/><circle cx="432.9" cy="209.3" r="2.6"/><circle cx="439.8" cy="214.1" r="2.6"/></g>
<path d="M287.6,249.0V263.0M285.4,249.0H289.8M285.4,263.0H289.8M294.5,246.0V262.0M292.3,246.0H296.7M292.3,262.0H296.7M301.4,245.5V257.5M299.2,245.5H303.6M299.2,257.5H303.6M308.4,243.0V257.0M306.2,243.0H310.6M306.2,257.0H310.6M315.3,244.0V260.0M313.1,244.0H317.5M313.1,260.0H317.5M322.2,244.0V260.0M320.0,244.0H324.4M320.0,260.0H324.4M329.1,237.2V251.2M326.9,237.2H331.3M326.9,251.2H331.3M336.0,238.5V254.5M333.8,238.5H338.2M333.8,254.5H338.2M343.0,238.5V254.5M340.8,238.5H345.2M340.8,254.5H345.2M349.9,232.2V250.2M347.7,232.2H352.1M347.7,250.2H352.1M356.8,237.5V255.5M354.6,237.5H359.0M354.6,255.5H359.0M363.7,230.6V248.6M361.5,230.6H365.9M361.5,248.6H365.9M370.6,229.1V249.1M368.4,229.1H372.8M368.4,249.1H372.8M377.6,220.0V238.0M375.4,220.0H379.8M375.4,238.0H379.8M384.5,222.7V242.7M382.3,222.7H386.7M382.3,242.7H386.7M391.4,219.7V237.7M389.2,219.7H393.6M389.2,237.7H393.6M398.3,219.1V237.1M396.1,219.1H400.5M396.1,237.1H400.5M405.2,219.0V241.0M403.0,219.0H407.4M403.0,241.0H407.4M412.2,202.1V226.1M410.0,202.1H414.4M410.0,226.1H414.4M419.1,211.2V235.2M416.9,211.2H421.3M416.9,235.2H421.3M426.0,190.2V210.2M423.8,190.2H428.2M423.8,210.2H428.2M432.9,187.8V211.8M430.7,187.8H435.1M430.7,211.8H435.1" fill="none" stroke="#62c262" stroke-width="0.9"/>
<polyline points="287.6,256.0 294.5,254.0 301.4,251.5 308.4,250.0 315.3,252.0 322.2,252.0 329.1,244.2 336.0,246.5 343.0,246.5 349.9,241.2 356.8,246.5 363.7,239.6 370.6,239.1 377.6,229.0 384.5,232.7 391.4,228.7 398.3,228.1 405.2,230.0 412.2,214.1 419.1,223.2 426.0,200.2 432.9,199.8" fill="none" stroke="#26ae26" stroke-width="1.3" stroke-linejoin="round"/>
<g fill="#26ae26"><rect x="285.1" y="253.5" width="5.0" height="5.0"/><rect x="292.0" y="251.5" width="5.0" height="5.0"/><rect x="298.9" y="249.0" width="5.0" height="5.0"/><rect x="305.9" y="247.5" width="5.0" height="5.0"/><rect x="312.8" y="249.5" width="5.0" height="5.0"/><rect x="319.7" y="249.5" width="5.0" height="5.0"/><rect x="326.6" y="241.7" width="5.0" height="5.0"/><rect x="333.5" y="244.0" width="5.0" height="5.0"/><rect x="340.5" y="244.0" width="5.0" height="5.0"/><rect x="347.4" y="238.7" width="5.0" height="5.0"/><rect x="354.3" y="244.0" width="5.0" height="5.0"/><rect x="361.2" y="237.1" width="5.0" height="5.0"/><rect x="368.1" y="236.6" width="5.0" height="5.0"/><rect x="375.1" y="226.5" width="5.0" height="5.0"/><rect x="382.0" y="230.2" width="5.0" height="5.0"/><rect x="388.9" y="226.2" width="5.0" height="5.0"/><rect x="395.8" y="225.6" width="5.0" height="5.0"/><rect x="402.7" y="227.5" width="5.0" height="5.0"/><rect x="409.7" y="211.6" width="5.0" height="5.0"/><rect x="416.6" y="220.7" width="5.0" height="5.0"/><rect x="423.5" y="197.7" width="5.0" height="5.0"/><rect x="430.4" y="197.3" width="5.0" height="5.0"/></g>
<path d="M287.6,247.0V257.0M285.4,247.0H289.8M285.4,257.0H289.8M294.5,245.0V255.0M292.3,245.0H296.7M292.3,255.0H296.7M301.4,241.0V253.0M299.2,241.0H303.6M299.2,253.0H303.6M308.4,236.0V250.0M306.2,236.0H310.6M306.2,250.0H310.6M315.3,229.4V245.4M313.1,229.4H317.5M313.1,245.4H317.5M322.2,234.4V246.4M320.0,234.4H324.4M320.0,246.4H324.4M329.1,230.4V246.4M326.9,230.4H331.3M326.9,246.4H331.3M336.0,230.4V246.4M333.8,230.4H338.2M333.8,246.4H338.2M343.0,229.4V247.4M340.8,229.4H345.2M340.8,247.4H345.2M349.9,221.2V247.2M347.7,221.2H352.1M347.7,247.2H352.1M356.8,221.2V247.2M354.6,221.2H359.0M354.6,247.2H359.0M363.7,218.6V244.6M361.5,218.6H365.9M361.5,244.6H365.9M370.6,221.1V245.1M368.4,221.1H372.8M368.4,245.1H372.8M377.6,200.2V237.8M375.4,200.2H379.8M375.4,237.8H379.8M384.5,210.4V239.2M382.3,210.4H386.7M382.3,239.2H386.7M391.4,191.2V244.2M389.2,191.2H393.6M389.2,244.2H393.6M398.3,201.3V225.7M396.1,201.3H400.5M396.1,225.7H400.5M405.2,189.4V231.4M403.0,189.4H407.4M403.0,231.4H407.4M412.2,199.4V224.0M410.0,199.4H414.4M410.0,224.0H414.4M419.1,187.4V229.8M416.9,187.4H421.3M416.9,229.8H421.3M426.0,186.7V214.7M423.8,186.7H428.2M423.8,214.7H428.2M432.9,164.2V228.2M430.7,164.2H435.1M430.7,228.2H435.1M439.8,149.6V230.0M437.6,149.6H442.0M437.6,230.0H442.0" fill="none" stroke="#7272c4" stroke-width="0.9"/>
<polyline points="287.6,252.0 294.5,250.0 301.4,247.0 308.4,243.0 315.3,237.4 322.2,240.4 329.1,238.4 336.0,238.4 343.0,238.4 349.9,234.2 356.8,234.2 363.7,231.6 370.6,233.1 377.6,219.0 384.5,224.8 391.4,217.7 398.3,213.5 405.2,210.4 412.2,211.7 419.1,208.6 426.0,200.7 432.9,196.2 439.8,189.8" fill="none" stroke="#1a14c0" stroke-width="1.3" stroke-linejoin="round"/>
<g fill="#1a14c0"><circle cx="287.6" cy="252.0" r="2.6"/><circle cx="294.5" cy="250.0" r="2.6"/><circle cx="301.4" cy="247.0" r="2.6"/><circle cx="308.4" cy="243.0" r="2.6"/><circle cx="315.3" cy="237.4" r="2.6"/><circle cx="322.2" cy="240.4" r="2.6"/><circle cx="329.1" cy="238.4" r="2.6"/><circle cx="336.0" cy="238.4" r="2.6"/><circle cx="343.0" cy="238.4" r="2.6"/><circle cx="349.9" cy="234.2" r="2.6"/><circle cx="356.8" cy="234.2" r="2.6"/><circle cx="363.7" cy="231.6" r="2.6"/><circle cx="370.6" cy="233.1" r="2.6"/><circle cx="377.6" cy="219.0" r="2.6"/><circle cx="384.5" cy="224.8" r="2.6"/><circle cx="391.4" cy="217.7" r="2.6"/><circle cx="398.3" cy="213.5" r="2.6"/><circle cx="405.2" cy="210.4" r="2.6"/><circle cx="412.2" cy="211.7" r="2.6"/><circle cx="419.1" cy="208.6" r="2.6"/><circle cx="426.0" cy="200.7" r="2.6"/><circle cx="432.9" cy="196.2" r="2.6"/><circle cx="439.8" cy="189.8" r="2.6"/></g>
<polyline points="287.6,251.2 294.5,249.0 301.4,245.2 308.4,241.4 315.3,232.7 322.2,232.7 329.1,227.5 336.0,216.1 343.0,211.4 349.9,209.7 356.8,201.7 363.7,197.5 370.6,182.5 377.6,188.7 384.5,195.2 391.4,178.0 398.3,180.6 405.2,167.1" fill="none" stroke="#f2881c" stroke-width="1.3" stroke-linejoin="round"/>
<g fill="#f2881c"><circle cx="287.6" cy="251.2" r="2.6"/><circle cx="294.5" cy="249.0" r="2.6"/><circle cx="301.4" cy="245.2" r="2.6"/><circle cx="308.4" cy="241.4" r="2.6"/><circle cx="315.3" cy="232.7" r="2.6"/><circle cx="322.2" cy="232.7" r="2.6"/><circle cx="329.1" cy="227.5" r="2.6"/><circle cx="336.0" cy="216.1" r="2.6"/><circle cx="343.0" cy="211.4" r="2.6"/><circle cx="349.9" cy="209.7" r="2.6"/><circle cx="356.8" cy="201.7" r="2.6"/><circle cx="363.7" cy="197.5" r="2.6"/><circle cx="370.6" cy="182.5" r="2.6"/><circle cx="377.6" cy="188.7" r="2.6"/><circle cx="384.5" cy="195.2" r="2.6"/><circle cx="391.4" cy="178.0" r="2.6"/><circle cx="398.3" cy="180.6" r="2.6"/><circle cx="405.2" cy="167.1" r="2.6"/></g>
<line x1="287.6" y1="245.2" x2="287.6" y2="257.2" stroke="#f0aa66" stroke-width="0.9" />
<line x1="285.4" y1="245.2" x2="289.8" y2="245.2" stroke="#f0aa66" stroke-width="0.9" />
<line x1="287.6" y1="245.2" x2="287.6" y2="257.2" stroke="#f0aa66" stroke-width="0.9" />
<line x1="285.4" y1="257.2" x2="289.8" y2="257.2" stroke="#f0aa66" stroke-width="0.9" />
<line x1="294.5" y1="242.0" x2="294.5" y2="256.0" stroke="#f0aa66" stroke-width="0.9" />
<line x1="292.3" y1="242.0" x2="296.7" y2="242.0" stroke="#f0aa66" stroke-width="0.9" />
<line x1="294.5" y1="242.0" x2="294.5" y2="256.0" stroke="#f0aa66" stroke-width="0.9" />
<line x1="292.3" y1="256.0" x2="296.7" y2="256.0" stroke="#f0aa66" stroke-width="0.9" />
<line x1="301.4" y1="236.2" x2="301.4" y2="254.2" stroke="#f0aa66" stroke-width="0.9" />
<line x1="299.2" y1="236.2" x2="303.6" y2="236.2" stroke="#f0aa66" stroke-width="0.9" />
<line x1="301.4" y1="236.2" x2="301.4" y2="254.2" stroke="#f0aa66" stroke-width="0.9" />
<line x1="299.2" y1="254.2" x2="303.6" y2="254.2" stroke="#f0aa66" stroke-width="0.9" />
<line x1="308.4" y1="231.4" x2="308.4" y2="251.4" stroke="#f0aa66" stroke-width="0.9" />
<line x1="306.2" y1="231.4" x2="310.6" y2="231.4" stroke="#f0aa66" stroke-width="0.9" />
<line x1="308.4" y1="231.4" x2="308.4" y2="251.4" stroke="#f0aa66" stroke-width="0.9" />
<line x1="306.2" y1="251.4" x2="310.6" y2="251.4" stroke="#f0aa66" stroke-width="0.9" />
<line x1="315.3" y1="219.2" x2="315.3" y2="246.2" stroke="#f0aa66" stroke-width="0.9" />
<line x1="313.1" y1="219.2" x2="317.5" y2="219.2" stroke="#f0aa66" stroke-width="0.9" />
<line x1="315.3" y1="219.2" x2="315.3" y2="246.2" stroke="#f0aa66" stroke-width="0.9" />
<line x1="313.1" y1="246.2" x2="317.5" y2="246.2" stroke="#f0aa66" stroke-width="0.9" />
<line x1="322.2" y1="221.7" x2="322.2" y2="243.7" stroke="#f0aa66" stroke-width="0.9" />
<line x1="320.0" y1="221.7" x2="324.4" y2="221.7" stroke="#f0aa66" stroke-width="0.9" />
<line x1="322.2" y1="221.7" x2="322.2" y2="243.7" stroke="#f0aa66" stroke-width="0.9" />
<line x1="320.0" y1="243.7" x2="324.4" y2="243.7" stroke="#f0aa66" stroke-width="0.9" />
<line x1="329.1" y1="217.5" x2="329.1" y2="237.5" stroke="#f0aa66" stroke-width="0.9" />
<line x1="326.9" y1="217.5" x2="331.3" y2="217.5" stroke="#f0aa66" stroke-width="0.9" />
<line x1="329.1" y1="217.5" x2="329.1" y2="237.5" stroke="#f0aa66" stroke-width="0.9" />
<line x1="326.9" y1="237.5" x2="331.3" y2="237.5" stroke="#f0aa66" stroke-width="0.9" />
<line x1="336.0" y1="204.1" x2="336.0" y2="228.1" stroke="#f0aa66" stroke-width="0.9" />
<line x1="333.8" y1="204.1" x2="338.2" y2="204.1" stroke="#f0aa66" stroke-width="0.9" />
<line x1="336.0" y1="204.1" x2="336.0" y2="228.1" stroke="#f0aa66" stroke-width="0.9" />
<line x1="333.8" y1="228.1" x2="338.2" y2="228.1" stroke="#f0aa66" stroke-width="0.9" />
<line x1="343.0" y1="199.4" x2="343.0" y2="223.4" stroke="#f0aa66" stroke-width="0.9" />
<line x1="340.8" y1="199.4" x2="345.2" y2="199.4" stroke="#f0aa66" stroke-width="0.9" />
<line x1="343.0" y1="199.4" x2="343.0" y2="223.4" stroke="#f0aa66" stroke-width="0.9" />
<line x1="340.8" y1="223.4" x2="345.2" y2="223.4" stroke="#f0aa66" stroke-width="0.9" />
<line x1="349.9" y1="195.9" x2="349.9" y2="223.5" stroke="#f0aa66" stroke-width="0.9" />
<line x1="347.7" y1="195.9" x2="352.1" y2="195.9" stroke="#f0aa66" stroke-width="0.9" />
<line x1="349.9" y1="195.9" x2="349.9" y2="223.5" stroke="#f0aa66" stroke-width="0.9" />
<line x1="347.7" y1="223.5" x2="352.1" y2="223.5" stroke="#f0aa66" stroke-width="0.9" />
<line x1="356.8" y1="192.2" x2="356.8" y2="211.2" stroke="#f0aa66" stroke-width="0.9" />
<line x1="354.6" y1="192.2" x2="359.0" y2="192.2" stroke="#f0aa66" stroke-width="0.9" />
<line x1="356.8" y1="192.2" x2="356.8" y2="211.2" stroke="#f0aa66" stroke-width="0.9" />
<line x1="354.6" y1="211.2" x2="359.0" y2="211.2" stroke="#f0aa66" stroke-width="0.9" />
<line x1="363.7" y1="188.0" x2="363.7" y2="207.0" stroke="#f0aa66" stroke-width="0.9" />
<line x1="361.5" y1="188.0" x2="365.9" y2="188.0" stroke="#f0aa66" stroke-width="0.9" />
<line x1="363.7" y1="188.0" x2="363.7" y2="207.0" stroke="#f0aa66" stroke-width="0.9" />
<line x1="361.5" y1="207.0" x2="365.9" y2="207.0" stroke="#f0aa66" stroke-width="0.9" />
<circle cx="405.2" cy="167.1" r="0.1" fill="#f2881c"/>
<path d="M287.6,246.1V258.1M285.4,246.1H289.8M285.4,258.1H289.8M294.5,243.0V257.0M292.3,243.0H296.7M292.3,257.0H296.7M301.4,237.1V255.1M299.2,237.1H303.6M299.2,255.1H303.6M308.4,234.6V250.6M306.2,234.6H310.6M306.2,250.6H310.6M315.3,229.7V249.7M313.1,229.7H317.5M313.1,249.7H317.5M322.2,223.8V245.8M320.0,223.8H324.4M320.0,245.8H324.4M329.1,219.6V239.6M326.9,219.6H331.3M326.9,239.6H331.3M336.0,217.2V235.2M333.8,217.2H338.2M333.8,235.2H338.2M343.0,210.6V230.6M340.8,210.6H345.2M340.8,230.6H345.2M349.9,203.2V223.2M347.7,203.2H352.1M347.7,223.2H352.1M356.8,199.0V217.0M354.6,199.0H359.0M354.6,217.0H359.0M363.7,190.3V208.3M361.5,190.3H365.9M361.5,208.3H365.9M370.6,192.3V212.3M368.4,192.3H372.8M368.4,212.3H372.8" fill="none" stroke="#f0aa66" stroke-width="0.9"/>
<polyline points="287.6,252.1 294.5,250.0 301.4,246.1 308.4,242.6 315.3,239.7 322.2,234.8 329.1,229.6 336.0,226.2 343.0,220.6 349.9,213.2 356.8,208.0 363.7,199.3 370.6,202.3 377.6,188.7 384.5,177.5 391.4,176.9 398.3,169.4" fill="none" stroke="#f2881c" stroke-width="1.3" stroke-linejoin="round"/>
<g fill="#f2881c"><rect x="285.1" y="249.6" width="5.0" height="5.0"/><rect x="292.0" y="247.5" width="5.0" height="5.0"/><rect x="298.9" y="243.6" width="5.0" height="5.0"/><rect x="305.9" y="240.1" width="5.0" height="5.0"/><rect x="312.8" y="237.2" width="5.0" height="5.0"/><rect x="319.7" y="232.3" width="5.0" height="5.0"/><rect x="326.6" y="227.1" width="5.0" height="5.0"/><rect x="333.5" y="223.7" width="5.0" height="5.0"/><rect x="340.5" y="218.1" width="5.0" height="5.0"/><rect x="347.4" y="210.7" width="5.0" height="5.0"/><rect x="354.3" y="205.5" width="5.0" height="5.0"/><rect x="361.2" y="196.8" width="5.0" height="5.0"/><rect x="368.1" y="199.8" width="5.0" height="5.0"/><rect x="375.1" y="186.2" width="5.0" height="5.0"/><rect x="382.0" y="175.0" width="5.0" height="5.0"/><rect x="388.9" y="174.4" width="5.0" height="5.0"/><rect x="395.8" y="166.9" width="5.0" height="5.0"/></g>
<path d="M329.1,249.8V261.8M326.9,249.8H331.3M326.9,261.8H331.3M336.0,249.8V261.8M333.8,249.8H338.2M333.8,261.8H338.2M356.8,250.2V262.2M354.6,250.2H359.0M354.6,262.2H359.0M367.2,252.1V264.1M365.0,252.1H369.4M365.0,264.1H369.4M374.1,251.9V263.9M371.9,251.9H376.3M371.9,263.9H376.3M379.3,253.7V265.7M377.1,253.7H381.5M377.1,265.7H381.5M384.5,253.7V265.7M382.3,253.7H386.7M382.3,265.7H386.7M391.4,253.7V265.7M389.2,253.7H393.6M389.2,265.7H393.6M405.2,251.4V263.4M403.0,251.4H407.4M403.0,263.4H407.4M419.1,250.8V262.8M416.9,250.8H421.3M416.9,262.8H421.3M426.0,252.6V264.6M423.8,252.6H428.2M423.8,264.6H428.2M439.8,253.2V265.2M437.6,253.2H442.0M437.6,265.2H442.0M446.8,253.2V265.2M444.6,253.2H449.0M444.6,265.2H449.0M453.7,252.3V264.3M451.5,252.3H455.9M451.5,264.3H455.9" fill="none" stroke="#de6468" stroke-width="0.9"/>
<polyline points="329.1,255.8 336.0,255.8 356.8,256.2 367.2,258.1 374.1,257.9 379.3,259.7 384.5,259.7 391.4,259.7 405.2,257.4 419.1,256.8 426.0,258.6 439.8,259.2 446.8,259.2 453.7,258.3" fill="none" stroke="#ea1c24" stroke-width="1.3" stroke-linejoin="round"/>
<g fill="#ea1c24"><circle cx="329.1" cy="255.8" r="2.6"/><circle cx="336.0" cy="255.8" r="2.6"/><circle cx="356.8" cy="256.2" r="2.6"/><circle cx="367.2" cy="258.1" r="2.6"/><circle cx="374.1" cy="257.9" r="2.6"/><circle cx="379.3" cy="259.7" r="2.6"/><circle cx="384.5" cy="259.7" r="2.6"/><circle cx="391.4" cy="259.7" r="2.6"/><circle cx="405.2" cy="257.4" r="2.6"/><circle cx="419.1" cy="256.8" r="2.6"/><circle cx="426.0" cy="258.6" r="2.6"/><circle cx="439.8" cy="259.2" r="2.6"/><circle cx="446.8" cy="259.2" r="2.6"/><circle cx="453.7" cy="258.3" r="2.6"/></g>
<line x1="462.5" y1="156.5" x2="473.8" y2="156.5" stroke="#1a14c0" stroke-width="1.3" />
<circle cx="468.1" cy="156.5" r="2.7" fill="#1a14c0"/>
<text x="481.2" y="159.8" font-size="8.5" text-anchor="start" font-weight="normal" fill="#222222" stroke="#222222" stroke-width="0.22" >Control</text>
<line x1="462.5" y1="170.0" x2="473.8" y2="170.0" stroke="#26ae26" stroke-width="1.3" />
<circle cx="468.1" cy="170.0" r="2.7" fill="#26ae26"/>
<text x="481.2" y="173.3" font-size="8.5" text-anchor="start" font-weight="normal" fill="#222222" stroke="#222222" stroke-width="0.22" >GefR1</text>
<line x1="462.5" y1="183.3" x2="473.8" y2="183.3" stroke="#ea1c24" stroke-width="1.3" />
<circle cx="468.1" cy="183.3" r="2.7" fill="#ea1c24"/>
<text x="481.2" y="186.6" font-size="8.5" text-anchor="start" font-weight="normal" fill="#222222" stroke="#222222" stroke-width="0.22" >GefS2</text>
<line x1="462.5" y1="196.6" x2="473.8" y2="196.6" stroke="#f2881c" stroke-width="1.3" />
<circle cx="468.1" cy="196.6" r="2.7" fill="#f2881c"/>
<text x="481.2" y="199.9" font-size="8.5" text-anchor="start" font-weight="normal" fill="#222222" stroke="#222222" stroke-width="0.22" >GefR3</text>
<line x1="462.5" y1="210.0" x2="473.8" y2="210.0" stroke="#26ae26" stroke-width="1.3" />
<rect x="465.4" y="207.3" width="5.4" height="5.4" fill="#26ae26"/>
<text x="481.2" y="213.3" font-size="8.5" text-anchor="start" font-weight="normal" fill="#222222" stroke="#222222" stroke-width="0.22" >GefR1</text>
<line x1="462.5" y1="223.4" x2="473.8" y2="223.4" stroke="#f2881c" stroke-width="1.3" />
<rect x="465.4" y="220.7" width="5.4" height="5.4" fill="#f2881c"/>
<text x="481.2" y="226.7" font-size="8.5" text-anchor="start" font-weight="normal" fill="#222222" stroke="#222222" stroke-width="0.22" >GefR3</text>
<line x1="510.5" y1="166.1" x2="510.5" y2="196.7" stroke="#555" stroke-width="0.9" />
<text transform="translate(519.7,181.4) rotate(-90)" font-size="8.5" text-anchor="middle" fill="#222222" stroke="#222222" stroke-width="0.22">C2</text>
<line x1="510.5" y1="205.4" x2="510.5" y2="227.7" stroke="#555" stroke-width="0.9" />
<text transform="translate(519.7,215.9) rotate(-90)" font-size="8.5" text-anchor="middle" fill="#222222" stroke="#222222" stroke-width="0.22">C4</text>
<text x="238.8" y="311.9" font-size="17.6" text-anchor="start" font-weight="bold" fill="#000" >G</text>
<line x1="286.9" y1="317.5" x2="286.9" y2="435.3" stroke="#555555" stroke-width="1" />
<line x1="283.9" y1="435.3" x2="286.9" y2="435.3" stroke="#555555" stroke-width="1" />
<text x="282.4" y="438.3" font-size="8.4" text-anchor="end" font-weight="normal" fill="#222222" stroke="#222222" stroke-width="0.22" >0</text>
<line x1="283.9" y1="415.7" x2="286.9" y2="415.7" stroke="#555555" stroke-width="1" />
<text x="282.4" y="418.7" font-size="8.4" text-anchor="end" font-weight="normal" fill="#222222" stroke="#222222" stroke-width="0.22" >500</text>
<line x1="283.9" y1="396.0" x2="286.9" y2="396.0" stroke="#555555" stroke-width="1" />
<text x="282.4" y="399.0" font-size="8.4" text-anchor="end" font-weight="normal" fill="#222222" stroke="#222222" stroke-width="0.22" >1,000</text>
<line x1="283.9" y1="376.4" x2="286.9" y2="376.4" stroke="#555555" stroke-width="1" />
<text x="282.4" y="379.4" font-size="8.4" text-anchor="end" font-weight="normal" fill="#222222" stroke="#222222" stroke-width="0.22" >1,500</text>
<line x1="283.9" y1="356.8" x2="286.9" y2="356.8" stroke="#555555" stroke-width="1" />
<text x="282.4" y="359.8" font-size="8.4" text-anchor="end" font-weight="normal" fill="#222222" stroke="#222222" stroke-width="0.22" >2,000</text>
<line x1="283.9" y1="337.1" x2="286.9" y2="337.1" stroke="#555555" stroke-width="1" />
<text x="282.4" y="340.1" font-size="8.4" text-anchor="end" font-weight="normal" fill="#222222" stroke="#222222" stroke-width="0.22" >2,500</text>
<line x1="283.9" y1="317.5" x2="286.9" y2="317.5" stroke="#555555" stroke-width="1" />
<text x="282.4" y="320.5" font-size="8.4" text-anchor="end" font-weight="normal" fill="#222222" stroke="#222222" stroke-width="0.22" >3,000</text>
<text transform="translate(254.9,376.9) rotate(-90)" font-size="8.6" text-anchor="middle" fill="#222222" stroke="#222222" stroke-width="0.22">Tumor size (mm<tspan font-size="5.6" dy="-3">3</tspan><tspan dy="3">)</tspan></text>
<text x="370.7" y="311.9" font-size="10" text-anchor="middle" font-weight="bold" fill="#111" stroke="#111" stroke-width="0.25" >SCC16-PDX</text>
<line x1="286.9" y1="435.3" x2="386.0" y2="435.3" stroke="#555555" stroke-width="1" />
<line x1="393.5" y1="435.3" x2="455.0" y2="435.3" stroke="#555555" stroke-width="1" />
<line x1="287.2" y1="435.3" x2="287.2" y2="438.3" stroke="#555555" stroke-width="1" />
<text x="287.2" y="447.8" font-size="8.4" text-anchor="middle" font-weight="normal" fill="#222222" stroke="#222222" stroke-width="0.22" >0</text>
<line x1="315.2" y1="435.3" x2="315.2" y2="438.3" stroke="#555555" stroke-width="1" />
<text x="315.2" y="447.8" font-size="8.4" text-anchor="middle" font-weight="normal" fill="#222222" stroke="#222222" stroke-width="0.22" >20</text>
<line x1="343.2" y1="435.3" x2="343.2" y2="438.3" stroke="#555555" stroke-width="1" />
<text x="343.2" y="447.8" font-size="8.4" text-anchor="middle" font-weight="normal" fill="#222222" stroke="#222222" stroke-width="0.22" >40</text>
<line x1="371.2" y1="435.3" x2="371.2" y2="438.3" stroke="#555555" stroke-width="1" />
<text x="371.2" y="447.8" font-size="8.4" text-anchor="middle" font-weight="normal" fill="#222222" stroke="#222222" stroke-width="0.22" >60</text>
<line x1="385.6" y1="435.3" x2="385.6" y2="438.3" stroke="#555555" stroke-width="1" />
<line x1="393.5" y1="435.3" x2="393.5" y2="438.3" stroke="#555555" stroke-width="1" />
<line x1="404.7" y1="435.3" x2="404.7" y2="438.3" stroke="#555555" stroke-width="1" />
<text x="404.7" y="447.8" font-size="8.4" text-anchor="middle" font-weight="normal" fill="#222222" stroke="#222222" stroke-width="0.22" >100</text>
<line x1="427.1" y1="435.3" x2="427.1" y2="438.3" stroke="#555555" stroke-width="1" />
<text x="427.1" y="447.8" font-size="8.4" text-anchor="middle" font-weight="normal" fill="#222222" stroke="#222222" stroke-width="0.22" >120</text>
<line x1="449.5" y1="435.3" x2="449.5" y2="438.3" stroke="#555555" stroke-width="1" />
<text x="449.5" y="447.8" font-size="8.4" text-anchor="middle" font-weight="normal" fill="#222222" stroke="#222222" stroke-width="0.22" >140</text>
<text x="377.7" y="457.8" font-size="8.6" text-anchor="middle" font-weight="normal" fill="#222222" stroke="#222222" stroke-width="0.22" >Time of treatment (days)</text>
<path d="M288.1,418.4V426.4M285.9,418.4H290.3M285.9,426.4H290.3M293.6,420.5V430.5M291.4,420.5H295.8M291.4,430.5H295.8M299.8,423.6V433.6M297.6,423.6H302.0M297.6,433.6H302.0M305.2,426.0V436.0M303.0,426.0H307.4M303.0,436.0H307.4M311.5,426.2V434.2M309.3,426.2H313.7M309.3,434.2H313.7M317.7,415.3V437.3M315.5,415.3H319.9M315.5,437.3H319.9M322.4,424.2V436.2M320.2,424.2H324.6M320.2,436.2H324.6M327.0,423.6V433.6M324.8,423.6H329.2M324.8,433.6H329.2M332.5,428.3V438.3M330.3,428.3H334.7M330.3,438.3H334.7M337.9,417.0V445.0M335.7,417.0H340.1M335.7,445.0H340.1M343.4,421.5V439.5M341.2,421.5H345.6M341.2,439.5H345.6M348.8,425.2V435.2M346.6,425.2H351.0M346.6,435.2H351.0M351.9,430.8V438.8M349.7,430.8H354.1M349.7,438.8H354.1M358.2,423.4V439.4M356.0,423.4H360.4M356.0,439.4H360.4M362.8,426.0V436.0M360.6,426.0H365.0M360.6,436.0H365.0M366.2,427.0V435.0M364.0,427.0H368.4M364.0,435.0H368.4M371.7,425.4V433.4M369.5,425.4H373.9M369.5,433.4H373.9M379.5,426.5V434.5M377.3,426.5H381.7M377.3,434.5H381.7M385.7,427.0V435.0M383.5,427.0H387.9M383.5,435.0H387.9" fill="none" stroke="#de6468" stroke-width="0.9"/>
<polyline points="286.6,421.6 288.1,422.4 293.6,425.5 299.8,428.6 305.2,431.0 311.5,430.2 317.7,426.3 322.4,430.2 327.0,428.6 332.5,433.3 337.9,431.0 343.4,430.5 348.8,430.2 351.9,434.8 358.2,431.4 362.8,431.0 366.2,431.0 371.7,429.4 379.5,430.5 385.7,431.0" fill="none" stroke="#ea1c24" stroke-width="1.3" stroke-linejoin="round"/>
<g fill="#ea1c24"><circle cx="286.6" cy="421.6" r="2.4"/><circle cx="288.1" cy="422.4" r="2.4"/><circle cx="293.6" cy="425.5" r="2.4"/><circle cx="299.8" cy="428.6" r="2.4"/><circle cx="305.2" cy="431.0" r="2.4"/><circle cx="311.5" cy="430.2" r="2.4"/><circle cx="317.7" cy="426.3" r="2.4"/><circle cx="322.4" cy="430.2" r="2.4"/><circle cx="327.0" cy="428.6" r="2.4"/><circle cx="332.5" cy="433.3" r="2.4"/><circle cx="337.9" cy="431.0" r="2.4"/><circle cx="343.4" cy="430.5" r="2.4"/><circle cx="348.8" cy="430.2" r="2.4"/><circle cx="351.9" cy="434.8" r="2.4"/><circle cx="358.2" cy="431.4" r="2.4"/><circle cx="362.8" cy="431.0" r="2.4"/><circle cx="366.2" cy="431.0" r="2.4"/><circle cx="371.7" cy="429.4" r="2.4"/><circle cx="379.5" cy="430.5" r="2.4"/><circle cx="385.7" cy="431.0" r="2.4"/></g>
<polyline points="393.5,428.6 397.4,430.2 401.2,430.2 405.1,429.4 409.0,428.6 412.9,430.5 416.8,430.2 420.7,429.9 423.8,429.4 428.5,431.0 431.6,430.2 435.5,425.8" fill="none" stroke="#ea1c24" stroke-width="1.3" stroke-linejoin="round"/>
<g fill="#ea1c24"><circle cx="393.5" cy="428.6" r="2.4"/><circle cx="397.4" cy="430.2" r="2.4"/><circle cx="401.2" cy="430.2" r="2.4"/><circle cx="405.1" cy="429.4" r="2.4"/><circle cx="409.0" cy="428.6" r="2.4"/><circle cx="412.9" cy="430.5" r="2.4"/><circle cx="416.8" cy="430.2" r="2.4"/><circle cx="420.7" cy="429.9" r="2.4"/><circle cx="423.8" cy="429.4" r="2.4"/><circle cx="428.5" cy="431.0" r="2.4"/><circle cx="431.6" cy="430.2" r="2.4"/><circle cx="435.5" cy="425.8" r="2.4"/></g>
<polyline points="286.6,421.6 291.2,417.7 296.7,418.5 302.1,422.4 306.8,423.9 311.5,426.8 316.1,427.1 321.6,429.4 326.2,431.0 331.7,428.3 337.1,427.1 342.6,426.3 347.3,427.1 353.5,427.1 359.7,425.5 363.6,423.9 363.1,425.5 367.0,426.8 371.7,425.8 375.6,426.8 379.5,423.9 385.7,424.7" fill="none" stroke="#26ae26" stroke-width="1.3" stroke-linejoin="round"/>
<g fill="#26ae26"><circle cx="286.6" cy="421.6" r="2.5"/><circle cx="291.2" cy="417.7" r="2.5"/><circle cx="296.7" cy="418.5" r="2.5"/><circle cx="302.1" cy="422.4" r="2.5"/><circle cx="306.8" cy="423.9" r="2.5"/><circle cx="311.5" cy="426.8" r="2.5"/><circle cx="316.1" cy="427.1" r="2.5"/><circle cx="321.6" cy="429.4" r="2.5"/><circle cx="326.2" cy="431.0" r="2.5"/><circle cx="331.7" cy="428.3" r="2.5"/><circle cx="337.1" cy="427.1" r="2.5"/><circle cx="342.6" cy="426.3" r="2.5"/><circle cx="347.3" cy="427.1" r="2.5"/><circle cx="353.5" cy="427.1" r="2.5"/><circle cx="359.7" cy="425.5" r="2.5"/><circle cx="363.6" cy="423.9" r="2.5"/><circle cx="363.1" cy="425.5" r="2.5"/><circle cx="367.0" cy="426.8" r="2.5"/><circle cx="371.7" cy="425.8" r="2.5"/><circle cx="375.6" cy="426.8" r="2.5"/><circle cx="379.5" cy="423.9" r="2.5"/><circle cx="385.7" cy="424.7" r="2.5"/></g>
<polyline points="393.5,423.6 396.6,423.2 400.5,420.8 403.6,418.5 406.7,417.7 409.8,416.9 411.4,409.6 415.3,413.1 418.4,406.8 419.9,408.1 423.8,393.6 426.9,393.1 430.8,371.8 432.4,370.3 435.5,357.0" fill="none" stroke="#26ae26" stroke-width="1.3" stroke-linejoin="round"/>
<g fill="#26ae26"><circle cx="393.5" cy="423.6" r="2.5"/><circle cx="396.6" cy="423.2" r="2.5"/><circle cx="400.5" cy="420.8" r="2.5"/><circle cx="403.6" cy="418.5" r="2.5"/><circle cx="406.7" cy="417.7" r="2.5"/><circle cx="409.8" cy="416.9" r="2.5"/><circle cx="411.4" cy="409.6" r="2.5"/><circle cx="415.3" cy="413.1" r="2.5"/><circle cx="418.4" cy="406.8" r="2.5"/><circle cx="419.9" cy="408.1" r="2.5"/><circle cx="423.8" cy="393.6" r="2.5"/><circle cx="426.9" cy="393.1" r="2.5"/><circle cx="430.8" cy="371.8" r="2.5"/><circle cx="432.4" cy="370.3" r="2.5"/><circle cx="435.5" cy="357.0" r="2.5"/></g>
<path d="M291.0,410.6V418.6M288.8,410.6H293.2M288.8,418.6H293.2M297.9,397.3V413.3M295.7,397.3H300.1M295.7,413.3H300.1M300.1,392.1V412.1M297.9,392.1H302.3M297.9,412.1H302.3M302.8,386.3V410.3M300.6,386.3H305.0M300.6,410.3H305.0M305.5,380.5V408.5M303.3,380.5H307.7M303.3,408.5H307.7M308.2,363.8V407.8M306.0,363.8H310.4M306.0,407.8H310.4M310.9,364.2V404.2M308.7,364.2H313.1M308.7,404.2H313.1M313.7,362.5V400.5M311.5,362.5H315.9M311.5,400.5H315.9M316.4,362.3V396.3M314.2,362.3H318.6M314.2,396.3H318.6M319.1,352.6V400.6M316.9,352.6H321.3M316.9,400.6H321.3M321.8,348.3V398.3M319.6,348.3H324.0M319.6,398.3H324.0M324.5,347.1V393.1M322.3,347.1H326.7M322.3,393.1H326.7M327.2,350.5V388.5M325.0,350.5H329.4M325.0,388.5H329.4M329.9,350.9V384.9M327.7,350.9H332.1M327.7,384.9H332.1" fill="none" stroke="#7272c4" stroke-width="0.9"/>
<polyline points="287.5,421.5 291.0,414.6 297.9,405.3 300.1,402.1 302.8,398.3 305.5,394.5 308.2,385.8 310.9,384.2 313.7,381.5 316.4,379.3 319.1,376.6 321.8,373.3 324.5,370.1 327.2,369.5 329.9,367.9" fill="none" stroke="#1a14c0" stroke-width="1.3" stroke-linejoin="round"/>
<g fill="#1a14c0"><circle cx="287.5" cy="421.5" r="2.5"/><circle cx="291.0" cy="414.6" r="2.5"/><circle cx="297.9" cy="405.3" r="2.5"/><circle cx="300.1" cy="402.1" r="2.5"/><circle cx="302.8" cy="398.3" r="2.5"/><circle cx="305.5" cy="394.5" r="2.5"/><circle cx="308.2" cy="385.8" r="2.5"/><circle cx="310.9" cy="384.2" r="2.5"/><circle cx="313.7" cy="381.5" r="2.5"/><circle cx="316.4" cy="379.3" r="2.5"/><circle cx="319.1" cy="376.6" r="2.5"/><circle cx="321.8" cy="373.3" r="2.5"/><circle cx="324.5" cy="370.1" r="2.5"/><circle cx="327.2" cy="369.5" r="2.5"/><circle cx="329.9" cy="367.9" r="2.5"/></g>
<path d="M288.2,413.8V421.8M286.0,413.8H290.4M286.0,421.8H290.4M292.5,407.9V417.9M290.3,407.9H294.7M290.3,417.9H294.7M296.8,403.1V415.1M294.6,403.1H299.0M294.6,415.1H299.0M301.2,399.4V413.4M299.0,399.4H303.4M299.0,413.4H303.4M305.5,395.1V411.1M303.3,395.1H307.7M303.3,411.1H307.7M308.8,390.9V408.9M306.6,390.9H311.0M306.6,408.9H311.0M311.5,388.7V406.7M309.3,388.7H313.7M309.3,406.7H313.7M313.7,386.6V404.6M311.5,386.6H315.9M311.5,404.6H315.9" fill="none" stroke="#62c262" stroke-width="0.9"/>
<polyline points="287.5,421.5 288.2,417.8 292.5,412.9 296.8,409.1 301.2,406.4 305.5,403.1 308.8,399.9 311.5,397.7 313.7,395.6" fill="none" stroke="#26ae26" stroke-width="1.3" stroke-linejoin="round"/>
<g fill="#26ae26"><rect x="285.1" y="419.1" width="4.8" height="4.8"/><rect x="285.8" y="415.4" width="4.8" height="4.8"/><rect x="290.1" y="410.5" width="4.8" height="4.8"/><rect x="294.4" y="406.7" width="4.8" height="4.8"/><rect x="298.8" y="404.0" width="4.8" height="4.8"/><rect x="303.1" y="400.7" width="4.8" height="4.8"/><rect x="306.4" y="397.5" width="4.8" height="4.8"/><rect x="309.1" y="395.3" width="4.8" height="4.8"/><rect x="311.3" y="393.2" width="4.8" height="4.8"/></g>
<polyline points="287.1,421.6 292.5,419.4 297.9,419.4 303.4,421.6 307.7,424.8 312.6,426.5 315.8,424.8 319.1,416.2 321.8,415.1 325.0,414.5 327.2,412.9 331.0,403.1 333.7,406.4 339.5,408.1 343.4,409.2 346.5,405.0 351.1,413.8 355.0,411.8 360.5,412.7 360.0,412.3 363.1,409.9 366.2,408.4 370.9,399.8 374.0,403.7 379.5,392.8 382.6,391.0 385.7,395.9" fill="none" stroke="#111111" stroke-width="1.3" stroke-linejoin="round"/>
<g fill="#111111"><circle cx="287.1" cy="421.6" r="2.5"/><circle cx="292.5" cy="419.4" r="2.5"/><circle cx="297.9" cy="419.4" r="2.5"/><circle cx="303.4" cy="421.6" r="2.5"/><circle cx="307.7" cy="424.8" r="2.5"/><circle cx="312.6" cy="426.5" r="2.5"/><circle cx="315.8" cy="424.8" r="2.5"/><circle cx="319.1" cy="416.2" r="2.5"/><circle cx="321.8" cy="415.1" r="2.5"/><circle cx="325.0" cy="414.5" r="2.5"/><circle cx="327.2" cy="412.9" r="2.5"/><circle cx="331.0" cy="403.1" r="2.5"/><circle cx="333.7" cy="406.4" r="2.5"/><circle cx="339.5" cy="408.1" r="2.5"/><circle cx="343.4" cy="409.2" r="2.5"/><circle cx="346.5" cy="405.0" r="2.5"/><circle cx="351.1" cy="413.8" r="2.5"/><circle cx="355.0" cy="411.8" r="2.5"/><circle cx="360.5" cy="412.7" r="2.5"/><circle cx="360.0" cy="412.3" r="2.5"/><circle cx="363.1" cy="409.9" r="2.5"/><circle cx="366.2" cy="408.4" r="2.5"/><circle cx="370.9" cy="399.8" r="2.5"/><circle cx="374.0" cy="403.7" r="2.5"/><circle cx="379.5" cy="392.8" r="2.5"/><circle cx="382.6" cy="391.0" r="2.5"/><circle cx="385.7" cy="395.9" r="2.5"/></g>
<path d="M292.5,415.5V425.5M290.3,415.5H294.7M290.3,425.5H294.7M296.8,405.8V417.8M294.6,405.8H299.0M294.6,417.8H299.0M301.2,404.7V416.7M299.0,404.7H303.4M299.0,416.7H303.4M305.5,404.2V416.2M303.3,404.2H307.7M303.3,416.2H307.7M309.3,399.4V413.4M307.1,399.4H311.5M307.1,413.4H311.5M313.1,395.1V411.1M310.9,395.1H315.3M310.9,411.1H315.3M315.8,394.1V410.1M313.6,394.1H318.0M313.6,410.1H318.0M318.5,388.7V406.7M316.3,388.7H320.7M316.3,406.7H320.7M321.2,386.1V406.1M319.0,386.1H323.4M319.0,406.1H323.4M323.4,378.1V402.1M321.2,378.1H325.6M321.2,402.1H325.6M326.1,369.6V397.6M323.9,369.6H328.3M323.9,397.6H328.3M331.6,351.4V383.4M329.4,351.4H333.8M329.4,383.4H333.8M333.7,348.2V408.2M331.5,348.2H335.9M331.5,408.2H335.9M346.5,370.4V376.4M344.3,370.4H348.7M344.3,376.4H348.7M351.1,322.5V360.5M348.9,322.5H353.3M348.9,360.5H353.3" fill="none" stroke="#444444" stroke-width="0.9"/>
<polyline points="287.1,421.6 292.5,420.5 296.8,411.8 301.2,410.7 305.5,410.2 309.3,406.4 313.1,403.1 315.8,402.1 318.5,397.7 321.2,396.1 323.4,390.1 326.1,383.6 331.6,367.4 333.7,378.2 346.5,373.4 351.1,341.5 354.3,350.5 360.5,342.7" fill="none" stroke="#111111" stroke-width="1.3" stroke-linejoin="round"/>
<g fill="#111111"><rect x="284.6" y="419.1" width="5.0" height="5.0"/><rect x="290.0" y="418.0" width="5.0" height="5.0"/><rect x="294.3" y="409.3" width="5.0" height="5.0"/><rect x="298.7" y="408.2" width="5.0" height="5.0"/><rect x="303.0" y="407.7" width="5.0" height="5.0"/><rect x="306.8" y="403.9" width="5.0" height="5.0"/><rect x="310.6" y="400.6" width="5.0" height="5.0"/><rect x="313.3" y="399.6" width="5.0" height="5.0"/><rect x="316.0" y="395.2" width="5.0" height="5.0"/><rect x="318.7" y="393.6" width="5.0" height="5.0"/><rect x="320.9" y="387.6" width="5.0" height="5.0"/><rect x="323.6" y="381.1" width="5.0" height="5.0"/><rect x="329.1" y="364.9" width="5.0" height="5.0"/><rect x="331.2" y="375.7" width="5.0" height="5.0"/><rect x="344.0" y="370.9" width="5.0" height="5.0"/><rect x="348.6" y="339.0" width="5.0" height="5.0"/><rect x="351.8" y="348.0" width="5.0" height="5.0"/><rect x="358.0" y="340.2" width="5.0" height="5.0"/></g>
<line x1="448.5" y1="325.1" x2="459.7" y2="325.1" stroke="#1a14c0" stroke-width="1.3" />
<circle cx="454.1" cy="325.1" r="2.7" fill="#1a14c0"/>
<text x="467.4" y="328.4" font-size="8.5" text-anchor="start" font-weight="normal" fill="#222222" stroke="#222222" stroke-width="0.22" >Control</text>
<line x1="448.5" y1="338.5" x2="459.7" y2="338.5" stroke="#ea1c24" stroke-width="1.3" />
<circle cx="454.1" cy="338.5" r="2.7" fill="#ea1c24"/>
<text x="467.4" y="341.8" font-size="8.5" text-anchor="start" font-weight="normal" fill="#222222" stroke="#222222" stroke-width="0.22" >GefS1</text>
<line x1="448.5" y1="351.5" x2="459.7" y2="351.5" stroke="#26ae26" stroke-width="1.3" />
<circle cx="454.1" cy="351.5" r="2.7" fill="#26ae26"/>
<text x="467.4" y="354.8" font-size="8.5" text-anchor="start" font-weight="normal" fill="#222222" stroke="#222222" stroke-width="0.22" >GefR2.1</text>
<line x1="448.5" y1="365.4" x2="459.7" y2="365.4" stroke="#111111" stroke-width="1.3" />
<circle cx="454.1" cy="365.4" r="2.7" fill="#111111"/>
<text x="467.4" y="368.7" font-size="8.5" text-anchor="start" font-weight="normal" fill="#222222" stroke="#222222" stroke-width="0.22" >GefR2.2</text>
<line x1="448.5" y1="379.5" x2="459.7" y2="379.5" stroke="#26ae26" stroke-width="1.3" />
<rect x="451.4" y="376.8" width="5.4" height="5.4" fill="#26ae26"/>
<text x="467.4" y="382.8" font-size="8.5" text-anchor="start" font-weight="normal" fill="#222222" stroke="#222222" stroke-width="0.22" >GefR2.1</text>
<line x1="448.5" y1="393.8" x2="459.7" y2="393.8" stroke="#111111" stroke-width="1.3" />
<rect x="451.4" y="391.1" width="5.4" height="5.4" fill="#111111"/>
<text x="467.4" y="397.1" font-size="8.5" text-anchor="start" font-weight="normal" fill="#222222" stroke="#222222" stroke-width="0.22" >GefR2.2</text>
<line x1="503.5" y1="333.8" x2="503.5" y2="367.2" stroke="#555" stroke-width="0.9" />
<text transform="translate(512.9,351.8) rotate(-90)" font-size="8.5" text-anchor="middle" fill="#222222" stroke="#222222" stroke-width="0.22">C2</text>
<line x1="503.5" y1="375.4" x2="503.5" y2="397.0" stroke="#555" stroke-width="0.9" />
<text transform="translate(512.9,386.2) rotate(-90)" font-size="8.5" text-anchor="middle" fill="#222222" stroke="#222222" stroke-width="0.22">C3</text>
<text x="238.8" y="482.7" font-size="17.6" text-anchor="start" font-weight="bold" fill="#000" >H</text>
<line x1="286.7" y1="487.9" x2="286.7" y2="605.3" stroke="#555555" stroke-width="1" />
<line x1="283.7" y1="605.3" x2="286.7" y2="605.3" stroke="#555555" stroke-width="1" />
<text x="282.2" y="608.3" font-size="8.4" text-anchor="end" font-weight="normal" fill="#222222" stroke="#222222" stroke-width="0.22" >0</text>
<line x1="283.7" y1="585.7" x2="286.7" y2="585.7" stroke="#555555" stroke-width="1" />
<text x="282.2" y="588.7" font-size="8.4" text-anchor="end" font-weight="normal" fill="#222222" stroke="#222222" stroke-width="0.22" >500</text>
<line x1="283.7" y1="566.2" x2="286.7" y2="566.2" stroke="#555555" stroke-width="1" />
<text x="282.2" y="569.2" font-size="8.4" text-anchor="end" font-weight="normal" fill="#222222" stroke="#222222" stroke-width="0.22" >1,000</text>
<line x1="283.7" y1="546.6" x2="286.7" y2="546.6" stroke="#555555" stroke-width="1" />
<text x="282.2" y="549.6" font-size="8.4" text-anchor="end" font-weight="normal" fill="#222222" stroke="#222222" stroke-width="0.22" >1,500</text>
<line x1="283.7" y1="527.0" x2="286.7" y2="527.0" stroke="#555555" stroke-width="1" />
<text x="282.2" y="530.0" font-size="8.4" text-anchor="end" font-weight="normal" fill="#222222" stroke="#222222" stroke-width="0.22" >2,000</text>
<line x1="283.7" y1="507.5" x2="286.7" y2="507.5" stroke="#555555" stroke-width="1" />
<text x="282.2" y="510.5" font-size="8.4" text-anchor="end" font-weight="normal" fill="#222222" stroke="#222222" stroke-width="0.22" >2,500</text>
<line x1="283.7" y1="487.9" x2="286.7" y2="487.9" stroke="#555555" stroke-width="1" />
<text x="282.2" y="490.9" font-size="8.4" text-anchor="end" font-weight="normal" fill="#222222" stroke="#222222" stroke-width="0.22" >3,000</text>
<text transform="translate(254.9,547.1) rotate(-90)" font-size="8.6" text-anchor="middle" fill="#222222" stroke="#222222" stroke-width="0.22">Tumor size (mm<tspan font-size="5.6" dy="-3">3</tspan><tspan dy="3">)</tspan></text>
<text x="370.7" y="482.3" font-size="10" text-anchor="middle" font-weight="bold" fill="#111" stroke="#111" stroke-width="0.25" >SCC24-PDX</text>
<line x1="286.7" y1="605.3" x2="461.0" y2="605.3" stroke="#555555" stroke-width="1" />
<line x1="287.4" y1="605.3" x2="287.4" y2="608.3" stroke="#555555" stroke-width="1" />
<text x="287.4" y="617.8" font-size="8.4" text-anchor="middle" font-weight="normal" fill="#222222" stroke="#222222" stroke-width="0.22" >0</text>
<line x1="330.3" y1="605.3" x2="330.3" y2="608.3" stroke="#555555" stroke-width="1" />
<text x="330.3" y="617.8" font-size="8.4" text-anchor="middle" font-weight="normal" fill="#222222" stroke="#222222" stroke-width="0.22" >20</text>
<line x1="373.2" y1="605.3" x2="373.2" y2="608.3" stroke="#555555" stroke-width="1" />
<text x="373.2" y="617.8" font-size="8.4" text-anchor="middle" font-weight="normal" fill="#222222" stroke="#222222" stroke-width="0.22" >40</text>
<line x1="416.1" y1="605.3" x2="416.1" y2="608.3" stroke="#555555" stroke-width="1" />
<text x="416.1" y="617.8" font-size="8.4" text-anchor="middle" font-weight="normal" fill="#222222" stroke="#222222" stroke-width="0.22" >60</text>
<line x1="459.0" y1="605.3" x2="459.0" y2="608.3" stroke="#555555" stroke-width="1" />
<text x="459.0" y="617.8" font-size="8.4" text-anchor="middle" font-weight="normal" fill="#222222" stroke="#222222" stroke-width="0.22" >80</text>
<text x="377.7" y="627.8" font-size="8.6" text-anchor="middle" font-weight="normal" fill="#222222" stroke="#222222" stroke-width="0.22" >Time of treatment (days)</text>
<path d="M287.4,588.4V598.4M285.2,588.4H289.6M285.2,598.4H289.6M291.5,590.0V600.0M289.3,590.0H293.7M289.3,600.0H293.7M296.0,592.4V602.4M293.8,592.4H298.2M293.8,602.4H298.2M300.4,594.5V604.5M298.2,594.5H302.6M298.2,604.5H302.6M304.4,594.0V604.0M302.2,594.0H306.6M302.2,604.0H306.6M309.0,593.2V603.2M306.8,593.2H311.2M306.8,603.2H311.2M313.3,592.4V602.4M311.1,592.4H315.5M311.1,602.4H315.5M317.7,595.2V605.2M315.5,595.2H319.9M315.5,605.2H319.9M321.9,593.2V603.2M319.7,593.2H324.1M319.7,603.2H324.1M327.4,590.4V604.4M325.2,590.4H329.6M325.2,604.4H329.6M332.0,589.6V603.6M329.8,589.6H334.2M329.8,603.6H334.2M338.4,587.7V601.7M336.2,587.7H340.6M336.2,601.7H340.6M343.3,588.3V602.3M341.1,588.3H345.5M341.1,602.3H345.5M347.3,589.6V603.6M345.1,589.6H349.5M345.1,603.6H349.5M356.3,588.3V602.3M354.1,588.3H358.5M354.1,602.3H358.5M360.3,588.3V602.3M358.1,588.3H362.5M358.1,602.3H362.5M377.8,587.7V601.7M375.6,587.7H380.0M375.6,601.7H380.0M386.7,588.3V602.3M384.5,588.3H388.9M384.5,602.3H388.9M391.0,589.4V603.4M388.8,589.4H393.2M388.8,603.4H393.2M399.4,587.2V601.2M397.2,587.2H401.6M397.2,601.2H401.6M404.1,587.2V601.2M401.9,587.2H406.3M401.9,601.2H406.3M408.3,588.3V602.3M406.1,588.3H410.5M406.1,602.3H410.5M416.8,585.5V599.5M414.6,585.5H419.0M414.6,599.5H419.0M421.6,585.1V599.1M419.4,585.1H423.8M419.4,599.1H423.8M430.1,583.4V597.4M427.9,583.4H432.3M427.9,597.4H432.3M434.3,585.5V599.5M432.1,585.5H436.5M432.1,599.5H436.5M438.6,583.4V597.4M436.4,583.4H440.8M436.4,597.4H440.8M447.0,581.9V595.9M444.8,581.9H449.2M444.8,595.9H449.2M451.3,581.9V595.9M449.1,581.9H453.5M449.1,595.9H453.5" fill="none" stroke="#de6468" stroke-width="0.9"/>
<polyline points="287.4,593.4 291.5,595.0 296.0,597.4 300.4,599.5 304.4,599.0 309.0,598.2 313.3,597.4 317.7,600.2 321.9,598.2 327.4,597.4 332.0,596.6 338.4,594.7 343.3,595.3 347.3,596.6 356.3,595.3 360.3,595.3 377.8,594.7 386.7,595.3 391.0,596.4 399.4,594.2 404.1,594.2 408.3,595.3 416.8,592.5 421.6,592.1 430.1,590.4 434.3,592.5 438.6,590.4 447.0,588.9 451.3,588.9" fill="none" stroke="#ea1c24" stroke-width="1.3" stroke-linejoin="round"/>
<g fill="#ea1c24"><circle cx="287.4" cy="593.4" r="2.4"/><circle cx="291.5" cy="595.0" r="2.4"/><circle cx="296.0" cy="597.4" r="2.4"/><circle cx="300.4" cy="599.5" r="2.4"/><circle cx="304.4" cy="599.0" r="2.4"/><circle cx="309.0" cy="598.2" r="2.4"/><circle cx="313.3" cy="597.4" r="2.4"/><circle cx="317.7" cy="600.2" r="2.4"/><circle cx="321.9" cy="598.2" r="2.4"/><circle cx="327.4" cy="597.4" r="2.4"/><circle cx="332.0" cy="596.6" r="2.4"/><circle cx="338.4" cy="594.7" r="2.4"/><circle cx="343.3" cy="595.3" r="2.4"/><circle cx="347.3" cy="596.6" r="2.4"/><circle cx="356.3" cy="595.3" r="2.4"/><circle cx="360.3" cy="595.3" r="2.4"/><circle cx="377.8" cy="594.7" r="2.4"/><circle cx="386.7" cy="595.3" r="2.4"/><circle cx="391.0" cy="596.4" r="2.4"/><circle cx="399.4" cy="594.2" r="2.4"/><circle cx="404.1" cy="594.2" r="2.4"/><circle cx="408.3" cy="595.3" r="2.4"/><circle cx="416.8" cy="592.5" r="2.4"/><circle cx="421.6" cy="592.1" r="2.4"/><circle cx="430.1" cy="590.4" r="2.4"/><circle cx="434.3" cy="592.5" r="2.4"/><circle cx="438.6" cy="590.4" r="2.4"/><circle cx="447.0" cy="588.9" r="2.4"/><circle cx="451.3" cy="588.9" r="2.4"/></g>
<path d="M291.5,583.2V586.7M289.3,583.2H293.7M289.3,586.7H293.7M296.0,578.0V594.2M293.8,578.0H298.2M293.8,594.2H298.2M300.4,569.1V594.3M298.2,569.1H302.6M298.2,594.3H302.6M304.4,556.4V591.4M302.2,556.4H306.6M302.2,591.4H306.6M309.0,547.2V583.8M306.8,547.2H311.2M306.8,583.8H311.2M313.3,539.6V587.2M311.1,539.6H315.5M311.1,587.2H315.5M317.7,525.3V574.6M315.5,525.3H319.9M315.5,574.6H319.9M321.9,525.7V573.0M319.7,525.7H324.1M319.7,573.0H324.1M326.3,527.3V565.5M324.1,527.3H328.5M324.1,565.5H328.5M330.7,494.9V566.2M328.5,494.9H332.9M328.5,566.2H332.9M335.2,488.1V552.9M333.0,488.1H337.4M333.0,552.9H337.4" fill="none" stroke="#7272c4" stroke-width="0.9"/>
<polyline points="287.4,583.6 291.5,584.9 296.0,586.1 300.4,581.7 304.4,573.9 309.0,565.5 313.3,563.4 317.7,550.0 321.9,549.3 326.3,546.4 330.7,530.5 335.2,520.5" fill="none" stroke="#1a14c0" stroke-width="1.3" stroke-linejoin="round"/>
<g fill="#1a14c0"><circle cx="287.4" cy="583.6" r="2.6"/><circle cx="291.5" cy="584.9" r="2.6"/><circle cx="296.0" cy="586.1" r="2.6"/><circle cx="300.4" cy="581.7" r="2.6"/><circle cx="304.4" cy="573.9" r="2.6"/><circle cx="309.0" cy="565.5" r="2.6"/><circle cx="313.3" cy="563.4" r="2.6"/><circle cx="317.7" cy="550.0" r="2.6"/><circle cx="321.9" cy="549.3" r="2.6"/><circle cx="326.3" cy="546.4" r="2.6"/><circle cx="330.7" cy="530.5" r="2.6"/><circle cx="335.2" cy="520.5" r="2.6"/></g>
<path d="M287.4,582.2V594.2M285.2,582.2H289.6M285.2,594.2H289.6M291.5,582.8V594.8M289.3,582.8H293.7M289.3,594.8H293.7M296.0,583.8V595.8M293.8,583.8H298.2M293.8,595.8H298.2M300.4,584.1V596.1M298.2,584.1H302.6M298.2,596.1H302.6M304.4,584.4V596.4M302.2,584.4H306.6M302.2,596.4H306.6M309.0,584.4V596.4M306.8,584.4H311.2M306.8,596.4H311.2M313.3,584.1V596.1M311.1,584.1H315.5M311.1,596.1H315.5M317.7,583.1V597.1M315.5,583.1H319.9M315.5,597.1H319.9M321.9,577.1V595.1M319.7,577.1H324.1M319.7,595.1H324.1M326.3,569.2V593.2M324.1,569.2H328.5M324.1,593.2H328.5M330.7,551.1V587.1M328.5,551.1H332.9M328.5,587.1H332.9M335.2,548.4V592.4M333.0,548.4H337.4M333.0,592.4H337.4M339.3,531.4V587.4M337.1,531.4H341.5M337.1,587.4H341.5" fill="none" stroke="#62c262" stroke-width="0.9"/>
<polyline points="287.4,588.2 291.5,588.8 296.0,589.8 300.4,590.1 304.4,590.4 309.0,590.4 313.3,590.1 317.7,590.1 321.9,586.1 326.3,581.2 330.7,569.1 335.2,570.4 339.3,559.4" fill="none" stroke="#26ae26" stroke-width="1.3" stroke-linejoin="round"/>
<g fill="#26ae26"><rect x="284.9" y="585.7" width="5.0" height="5.0"/><rect x="289.0" y="586.3" width="5.0" height="5.0"/><rect x="293.5" y="587.3" width="5.0" height="5.0"/><rect x="297.9" y="587.6" width="5.0" height="5.0"/><rect x="301.9" y="587.9" width="5.0" height="5.0"/><rect x="306.5" y="587.9" width="5.0" height="5.0"/><rect x="310.8" y="587.6" width="5.0" height="5.0"/><rect x="315.2" y="587.6" width="5.0" height="5.0"/><rect x="319.4" y="583.6" width="5.0" height="5.0"/><rect x="323.8" y="578.7" width="5.0" height="5.0"/><rect x="328.2" y="566.6" width="5.0" height="5.0"/><rect x="332.7" y="567.9" width="5.0" height="5.0"/><rect x="336.8" y="556.9" width="5.0" height="5.0"/></g>
<path d="M287.4,587.7V595.7M285.2,587.7H289.6M285.2,595.7H289.6M291.5,589.4V597.4M289.3,589.4H293.7M289.3,597.4H293.7M296.0,591.0V599.0M293.8,591.0H298.2M293.8,599.0H298.2M300.4,592.3V600.3M298.2,592.3H302.6M298.2,600.3H302.6M304.4,593.4V601.4M302.2,593.4H306.6M302.2,601.4H306.6M309.0,594.2V602.2M306.8,594.2H311.2M306.8,602.2H311.2M313.3,595.0V603.0M311.1,595.0H315.5M311.1,603.0H315.5M317.7,595.8V603.8M315.5,595.8H319.9M315.5,603.8H319.9M323.9,592.6V600.6M321.7,592.6H326.1M321.7,600.6H326.1M327.4,589.4V597.4M325.2,589.4H329.6M325.2,597.4H329.6M332.0,587.7V595.7M329.8,587.7H334.2M329.8,595.7H334.2M336.0,584.5V592.5M333.8,584.5H338.2M333.8,592.5H338.2M340.1,584.2V592.2M337.9,584.2H342.3M337.9,592.2H342.3M364.5,579.0V585.0M362.3,579.0H366.7M362.3,585.0H366.7M369.4,568.7V576.7M367.2,568.7H371.6M367.2,576.7H371.6M373.6,561.4V575.4M371.4,561.4H375.8M371.4,575.4H375.8M377.8,563.2V571.2M375.6,563.2H380.0M375.6,571.2H380.0M382.1,567.4V575.4M379.9,567.4H384.3M379.9,575.4H384.3M386.7,550.4V575.4M384.5,550.4H388.9M384.5,575.4H388.9M391.0,553.2V561.2M388.8,553.2H393.2M388.8,561.2H393.2M395.2,562.7V570.7M393.0,562.7H397.4M393.0,570.7H397.4M399.4,526.1V584.1M397.2,526.1H401.6M397.2,584.1H401.6M404.1,528.7V571.7M401.9,528.7H406.3M401.9,571.7H406.3M408.3,529.3V537.3M406.1,529.3H410.5M406.1,537.3H410.5M412.5,542.6V550.6M410.3,542.6H414.7M410.3,550.6H414.7M416.8,530.0V559.0M414.6,530.0H419.0M414.6,559.0H419.0M421.6,523.6V531.6M419.4,523.6H423.8M419.4,531.6H423.8M425.9,536.3V544.3M423.7,536.3H428.1M423.7,544.3H428.1M430.1,531.0V539.0M427.9,531.0H432.3M427.9,539.0H432.3" fill="none" stroke="#62c262" stroke-width="0.9"/>
<polyline points="287.4,591.7 291.5,593.4 296.0,595.0 300.4,596.3 304.4,597.4 309.0,598.2 313.3,599.0 317.7,599.8 323.9,596.6 327.4,593.4 332.0,591.7 336.0,588.5 340.1,588.2 364.5,582.0 369.4,572.7 373.6,568.4 377.8,567.2 382.1,571.4 386.7,562.9 391.0,557.2 395.2,566.7 399.4,555.1 404.1,550.2 408.3,533.3 412.5,546.6 416.8,544.5 421.6,527.6 425.9,540.3 430.1,535.0" fill="none" stroke="#26ae26" stroke-width="1.3" stroke-linejoin="round"/>
<g fill="#26ae26"><circle cx="287.4" cy="591.7" r="2.5"/><circle cx="291.5" cy="593.4" r="2.5"/><circle cx="296.0" cy="595.0" r="2.5"/><circle cx="300.4" cy="596.3" r="2.5"/><circle cx="304.4" cy="597.4" r="2.5"/><circle cx="309.0" cy="598.2" r="2.5"/><circle cx="313.3" cy="599.0" r="2.5"/><circle cx="317.7" cy="599.8" r="2.5"/><circle cx="323.9" cy="596.6" r="2.5"/><circle cx="327.4" cy="593.4" r="2.5"/><circle cx="332.0" cy="591.7" r="2.5"/><circle cx="336.0" cy="588.5" r="2.5"/><circle cx="340.1" cy="588.2" r="2.5"/><circle cx="364.5" cy="582.0" r="2.5"/><circle cx="369.4" cy="572.7" r="2.5"/><circle cx="373.6" cy="568.4" r="2.5"/><circle cx="377.8" cy="567.2" r="2.5"/><circle cx="382.1" cy="571.4" r="2.5"/><circle cx="386.7" cy="562.9" r="2.5"/><circle cx="391.0" cy="557.2" r="2.5"/><circle cx="395.2" cy="566.7" r="2.5"/><circle cx="399.4" cy="555.1" r="2.5"/><circle cx="404.1" cy="550.2" r="2.5"/><circle cx="408.3" cy="533.3" r="2.5"/><circle cx="412.5" cy="546.6" r="2.5"/><circle cx="416.8" cy="544.5" r="2.5"/><circle cx="421.6" cy="527.6" r="2.5"/><circle cx="425.9" cy="540.3" r="2.5"/><circle cx="430.1" cy="535.0" r="2.5"/></g>
<polyline points="287.4,590.9 291.5,592.6 296.0,594.2 300.4,595.8 304.4,596.6 309.0,596.6 313.3,595.8 317.7,595.3 321.9,594.2 326.3,595.3 330.7,595.8 335.2,597.4 347.3,592.6 351.7,588.2 360.3,578.0 365.2,562.9 373.6,561.4 377.8,554.0 382.5,560.0" fill="none" stroke="#111111" stroke-width="1.3" stroke-linejoin="round"/>
<g fill="#111111"><rect x="284.9" y="588.4" width="5.0" height="5.0"/><rect x="289.0" y="590.1" width="5.0" height="5.0"/><rect x="293.5" y="591.7" width="5.0" height="5.0"/><rect x="297.9" y="593.3" width="5.0" height="5.0"/><rect x="301.9" y="594.1" width="5.0" height="5.0"/><rect x="306.5" y="594.1" width="5.0" height="5.0"/><rect x="310.8" y="593.3" width="5.0" height="5.0"/><rect x="315.2" y="592.8" width="5.0" height="5.0"/><rect x="319.4" y="591.7" width="5.0" height="5.0"/><rect x="323.8" y="592.8" width="5.0" height="5.0"/><rect x="328.2" y="593.3" width="5.0" height="5.0"/><rect x="332.7" y="594.9" width="5.0" height="5.0"/><rect x="344.8" y="590.1" width="5.0" height="5.0"/><rect x="349.2" y="585.7" width="5.0" height="5.0"/><rect x="357.8" y="575.5" width="5.0" height="5.0"/><rect x="362.7" y="560.4" width="5.0" height="5.0"/><rect x="371.1" y="558.9" width="5.0" height="5.0"/><rect x="375.3" y="551.5" width="5.0" height="5.0"/><rect x="380.0" y="557.5" width="5.0" height="5.0"/></g>
<polyline points="287.4,582.8 291.5,590.1 296.0,591.7 300.4,593.4 304.4,594.2 309.0,593.4 313.3,594.2 317.7,593.4 323.9,591.7 327.4,583.6 332.0,582.8 336.0,583.6 343.3,576.8 347.3,577.2 356.3,574.7 360.3,563.6 364.5,558.7 373.6,538.2 386.3,543.0 391.0,541.8 395.6,517.0" fill="none" stroke="#111111" stroke-width="1.3" stroke-linejoin="round"/>
<g fill="#111111"><circle cx="287.4" cy="582.8" r="2.5"/><circle cx="291.5" cy="590.1" r="2.5"/><circle cx="296.0" cy="591.7" r="2.5"/><circle cx="300.4" cy="593.4" r="2.5"/><circle cx="304.4" cy="594.2" r="2.5"/><circle cx="309.0" cy="593.4" r="2.5"/><circle cx="313.3" cy="594.2" r="2.5"/><circle cx="317.7" cy="593.4" r="2.5"/><circle cx="323.9" cy="591.7" r="2.5"/><circle cx="327.4" cy="583.6" r="2.5"/><circle cx="332.0" cy="582.8" r="2.5"/><circle cx="336.0" cy="583.6" r="2.5"/><circle cx="343.3" cy="576.8" r="2.5"/><circle cx="347.3" cy="577.2" r="2.5"/><circle cx="356.3" cy="574.7" r="2.5"/><circle cx="360.3" cy="563.6" r="2.5"/><circle cx="364.5" cy="558.7" r="2.5"/><circle cx="373.6" cy="538.2" r="2.5"/><circle cx="386.3" cy="543.0" r="2.5"/><circle cx="391.0" cy="541.8" r="2.5"/><circle cx="395.6" cy="517.0" r="2.5"/></g>
<line x1="445.8" y1="495.4" x2="457.7" y2="495.4" stroke="#1a14c0" stroke-width="1.3" />
<circle cx="451.8" cy="495.4" r="2.7" fill="#1a14c0"/>
<text x="464.9" y="498.7" font-size="8.5" text-anchor="start" font-weight="normal" fill="#222222" stroke="#222222" stroke-width="0.22" >Control</text>
<line x1="445.8" y1="508.9" x2="457.7" y2="508.9" stroke="#ea1c24" stroke-width="1.3" />
<circle cx="451.8" cy="508.9" r="2.7" fill="#ea1c24"/>
<text x="464.9" y="512.2" font-size="8.5" text-anchor="start" font-weight="normal" fill="#222222" stroke="#222222" stroke-width="0.22" >GefS1</text>
<line x1="445.8" y1="522.0" x2="457.7" y2="522.0" stroke="#26ae26" stroke-width="1.3" />
<circle cx="451.8" cy="522.0" r="2.7" fill="#26ae26"/>
<text x="464.9" y="525.3" font-size="8.5" text-anchor="start" font-weight="normal" fill="#222222" stroke="#222222" stroke-width="0.22" >GefR2.1</text>
<line x1="445.8" y1="535.7" x2="457.7" y2="535.7" stroke="#111111" stroke-width="1.3" />
<circle cx="451.8" cy="535.7" r="2.7" fill="#111111"/>
<text x="464.9" y="539.0" font-size="8.5" text-anchor="start" font-weight="normal" fill="#222222" stroke="#222222" stroke-width="0.22" >GefR2.2</text>
<line x1="445.8" y1="549.2" x2="457.7" y2="549.2" stroke="#26ae26" stroke-width="1.3" />
<rect x="449.1" y="546.5" width="5.4" height="5.4" fill="#26ae26"/>
<text x="464.9" y="552.5" font-size="8.5" text-anchor="start" font-weight="normal" fill="#222222" stroke="#222222" stroke-width="0.22" >GefR2.1</text>
<line x1="445.8" y1="563.0" x2="457.7" y2="563.0" stroke="#111111" stroke-width="1.3" />
<rect x="449.1" y="560.3" width="5.4" height="5.4" fill="#111111"/>
<text x="464.9" y="566.3" font-size="8.5" text-anchor="start" font-weight="normal" fill="#222222" stroke="#222222" stroke-width="0.22" >GefR2.2</text>
<line x1="500.5" y1="504.3" x2="500.5" y2="538.5" stroke="#555" stroke-width="0.9" />
<text transform="translate(509.3,520.8) rotate(-90)" font-size="8.5" text-anchor="middle" fill="#222222" stroke="#222222" stroke-width="0.22">C2</text>
<line x1="500.5" y1="543.8" x2="500.5" y2="565.4" stroke="#555" stroke-width="0.9" />
<text transform="translate(509.3,554.6) rotate(-90)" font-size="8.5" text-anchor="middle" fill="#222222" stroke="#222222" stroke-width="0.22">C3</text>
<text x="238.8" y="652.7" font-size="17.6" text-anchor="start" font-weight="bold" fill="#000" >I</text>
<line x1="288.5" y1="659.9" x2="288.5" y2="777.3" stroke="#555555" stroke-width="1" />
<line x1="285.5" y1="777.3" x2="288.5" y2="777.3" stroke="#555555" stroke-width="1" />
<text x="284.0" y="780.3" font-size="8.4" text-anchor="end" font-weight="normal" fill="#222222" stroke="#222222" stroke-width="0.22" >0</text>
<line x1="285.5" y1="757.7" x2="288.5" y2="757.7" stroke="#555555" stroke-width="1" />
<text x="284.0" y="760.7" font-size="8.4" text-anchor="end" font-weight="normal" fill="#222222" stroke="#222222" stroke-width="0.22" >500</text>
<line x1="285.5" y1="738.2" x2="288.5" y2="738.2" stroke="#555555" stroke-width="1" />
<text x="284.0" y="741.2" font-size="8.4" text-anchor="end" font-weight="normal" fill="#222222" stroke="#222222" stroke-width="0.22" >1,000</text>
<line x1="285.5" y1="718.6" x2="288.5" y2="718.6" stroke="#555555" stroke-width="1" />
<text x="284.0" y="721.6" font-size="8.4" text-anchor="end" font-weight="normal" fill="#222222" stroke="#222222" stroke-width="0.22" >1,500</text>
<line x1="285.5" y1="699.0" x2="288.5" y2="699.0" stroke="#555555" stroke-width="1" />
<text x="284.0" y="702.0" font-size="8.4" text-anchor="end" font-weight="normal" fill="#222222" stroke="#222222" stroke-width="0.22" >2,000</text>
<line x1="285.5" y1="679.5" x2="288.5" y2="679.5" stroke="#555555" stroke-width="1" />
<text x="284.0" y="682.5" font-size="8.4" text-anchor="end" font-weight="normal" fill="#222222" stroke="#222222" stroke-width="0.22" >2,500</text>
<line x1="285.5" y1="659.9" x2="288.5" y2="659.9" stroke="#555555" stroke-width="1" />
<text x="284.0" y="662.9" font-size="8.4" text-anchor="end" font-weight="normal" fill="#222222" stroke="#222222" stroke-width="0.22" >3,000</text>
<text transform="translate(254.9,719.1) rotate(-90)" font-size="8.6" text-anchor="middle" fill="#222222" stroke="#222222" stroke-width="0.22">Tumor size (mm<tspan font-size="5.6" dy="-3">3</tspan><tspan dy="3">)</tspan></text>
<text x="370.7" y="654.6" font-size="10" text-anchor="middle" font-weight="bold" fill="#111" stroke="#111" stroke-width="0.25" >SCC34-PDX</text>
<line x1="288.5" y1="777.3" x2="460.0" y2="777.3" stroke="#555555" stroke-width="1" />
<line x1="288.3" y1="777.3" x2="288.3" y2="780.3" stroke="#555555" stroke-width="1" />
<text x="288.3" y="789.8" font-size="8.4" text-anchor="middle" font-weight="normal" fill="#222222" stroke="#222222" stroke-width="0.22" >0</text>
<line x1="341.9" y1="777.3" x2="341.9" y2="780.3" stroke="#555555" stroke-width="1" />
<text x="341.9" y="789.8" font-size="8.4" text-anchor="middle" font-weight="normal" fill="#222222" stroke="#222222" stroke-width="0.22" >10</text>
<line x1="395.5" y1="777.3" x2="395.5" y2="780.3" stroke="#555555" stroke-width="1" />
<text x="395.5" y="789.8" font-size="8.4" text-anchor="middle" font-weight="normal" fill="#222222" stroke="#222222" stroke-width="0.22" >20</text>
<line x1="449.1" y1="777.3" x2="449.1" y2="780.3" stroke="#555555" stroke-width="1" />
<text x="449.1" y="789.8" font-size="8.4" text-anchor="middle" font-weight="normal" fill="#222222" stroke="#222222" stroke-width="0.22" >30</text>
<text x="377.7" y="799.8" font-size="8.6" text-anchor="middle" font-weight="normal" fill="#222222" stroke="#222222" stroke-width="0.22" >Time of treatment (days)</text>
<path d="M288.5,764.1V774.1M286.3,764.1H290.7M286.3,774.1H290.7M298.5,760.1V770.1M296.3,760.1H300.7M296.3,770.1H300.7M309.2,759.5V769.5M307.0,759.5H311.4M307.0,769.5H311.4M315.3,761.2V771.2M313.1,761.2H317.5M313.1,771.2H317.5M325.7,759.8V769.8M323.5,759.8H327.9M323.5,769.8H327.9M336.6,758.1V768.1M334.4,758.1H338.8M334.4,768.1H338.8M347.3,753.7V763.7M345.1,753.7H349.5M345.1,763.7H349.5M352.8,752.0V762.0M350.6,752.0H355.0M350.6,762.0H355.0M363.7,747.7V757.7M361.5,747.7H365.9M361.5,757.7H365.9M374.1,747.3V757.3M371.9,747.3H376.3M371.9,757.3H376.3M384.6,741.2V751.2M382.4,741.2H386.8M382.4,751.2H386.8M400.8,738.8V748.8M398.6,738.8H403.0M398.6,748.8H403.0M411.5,735.8V745.8M409.3,735.8H413.7M409.3,745.8H413.7M422.5,730.6V740.6M420.3,730.6H424.7M420.3,740.6H424.7M427.7,743.5V753.5M425.5,743.5H429.9M425.5,753.5H429.9M438.8,731.5V741.5M436.6,731.5H441.0M436.6,741.5H441.0" fill="none" stroke="#62c262" stroke-width="0.9"/>
<polyline points="288.5,769.1 298.5,765.1 309.2,764.5 315.3,766.2 325.7,764.8 336.6,763.1 347.3,758.7 352.8,757.0 363.7,752.7 374.1,752.3 384.6,746.2 400.8,743.8 411.5,740.8 422.5,735.6 427.7,748.5 438.8,736.5" fill="none" stroke="#26ae26" stroke-width="1.3" stroke-linejoin="round"/>
<g fill="#26ae26"><rect x="286.0" y="766.6" width="5.0" height="5.0"/><rect x="296.0" y="762.6" width="5.0" height="5.0"/><rect x="306.7" y="762.0" width="5.0" height="5.0"/><rect x="312.8" y="763.7" width="5.0" height="5.0"/><rect x="323.2" y="762.3" width="5.0" height="5.0"/><rect x="334.1" y="760.6" width="5.0" height="5.0"/><rect x="344.8" y="756.2" width="5.0" height="5.0"/><rect x="350.3" y="754.5" width="5.0" height="5.0"/><rect x="361.2" y="750.2" width="5.0" height="5.0"/><rect x="371.6" y="749.8" width="5.0" height="5.0"/><rect x="382.1" y="743.7" width="5.0" height="5.0"/><rect x="398.3" y="741.3" width="5.0" height="5.0"/><rect x="409.0" y="738.3" width="5.0" height="5.0"/><rect x="420.0" y="733.1" width="5.0" height="5.0"/><rect x="425.2" y="746.0" width="5.0" height="5.0"/><rect x="436.3" y="734.0" width="5.0" height="5.0"/></g>
<path d="M288.5,758.9V768.9M286.3,758.9H290.7M286.3,768.9H290.7M298.5,759.1V771.1M296.3,759.1H300.7M296.3,771.1H300.7M309.2,755.0V765.0M307.0,755.0H311.4M307.0,765.0H311.4M320.5,756.7V768.7M318.3,756.7H322.7M318.3,768.7H322.7M331.4,755.0V765.0M329.2,755.0H333.6M329.2,765.0H333.6M341.8,753.3V765.3M339.6,753.3H344.0M339.6,765.3H344.0M352.8,750.1V762.1M350.6,750.1H355.0M350.6,762.1H355.0M363.7,745.8V757.8M361.5,745.8H365.9M361.5,757.8H365.9M374.1,744.1V756.1M371.9,744.1H376.3M371.9,756.1H376.3M384.6,739.8V751.8M382.4,739.8H386.8M382.4,751.8H386.8M395.6,734.9V748.9M393.4,734.9H397.8M393.4,748.9H397.8M406.5,726.7V740.7M404.3,726.7H408.7M404.3,740.7H408.7M417.3,730.1V746.1M415.1,730.1H419.5M415.1,746.1H419.5M427.7,725.3V739.3M425.5,725.3H429.9M425.5,739.3H429.9M438.8,721.2V737.2M436.6,721.2H441.0M436.6,737.2H441.0" fill="none" stroke="#de6468" stroke-width="0.9"/>
<polyline points="288.5,763.9 298.5,765.1 309.2,760.0 320.5,762.7 331.4,760.0 341.8,759.3 352.8,756.1 363.7,751.8 374.1,750.1 384.6,745.8 395.6,741.9 406.5,733.7 417.3,738.1 427.7,732.3 438.8,729.2" fill="none" stroke="#ea1c24" stroke-width="1.3" stroke-linejoin="round"/>
<g fill="#ea1c24"><rect x="286.0" y="761.4" width="5.0" height="5.0"/><rect x="296.0" y="762.6" width="5.0" height="5.0"/><rect x="306.7" y="757.5" width="5.0" height="5.0"/><rect x="318.0" y="760.2" width="5.0" height="5.0"/><rect x="328.9" y="757.5" width="5.0" height="5.0"/><rect x="339.3" y="756.8" width="5.0" height="5.0"/><rect x="350.3" y="753.6" width="5.0" height="5.0"/><rect x="361.2" y="749.3" width="5.0" height="5.0"/><rect x="371.6" y="747.6" width="5.0" height="5.0"/><rect x="382.1" y="743.3" width="5.0" height="5.0"/><rect x="393.1" y="739.4" width="5.0" height="5.0"/><rect x="404.0" y="731.2" width="5.0" height="5.0"/><rect x="414.8" y="735.6" width="5.0" height="5.0"/><rect x="425.2" y="729.8" width="5.0" height="5.0"/><rect x="436.3" y="726.7" width="5.0" height="5.0"/></g>
<path d="M288.5,757.7V767.7M286.3,757.7H290.7M286.3,767.7H290.7M298.5,757.7V767.7M296.3,757.7H300.7M296.3,767.7H300.7M309.2,753.7V763.7M307.0,753.7H311.4M307.0,763.7H311.4M320.5,752.9V762.9M318.3,752.9H322.7M318.3,762.9H322.7M331.4,749.8V759.8M329.2,749.8H333.6M329.2,759.8H333.6M341.8,746.0V756.0M339.6,746.0H344.0M339.6,756.0H344.0M352.8,743.9V753.9M350.6,743.9H355.0M350.6,753.9H355.0M363.7,740.8V750.8M361.5,740.8H365.9M361.5,750.8H365.9M374.1,738.7V748.7M371.9,738.7H376.3M371.9,748.7H376.3M384.6,734.4V744.4M382.4,734.4H386.8M382.4,744.4H386.8M395.6,735.4V745.4M393.4,735.4H397.8M393.4,745.4H397.8M406.5,731.5V741.5M404.3,731.5H408.7M404.3,741.5H408.7M417.3,728.1V738.1M415.1,728.1H419.5M415.1,738.1H419.5M427.7,727.7V737.7M425.5,727.7H429.9M425.5,737.7H429.9M438.8,728.7V738.7M436.6,728.7H441.0M436.6,738.7H441.0" fill="none" stroke="#62c262" stroke-width="0.9"/>
<polyline points="288.5,762.7 298.5,762.7 309.2,758.7 320.5,757.9 331.4,754.8 341.8,751.0 352.8,748.9 363.7,745.8 374.1,743.7 384.6,739.4 395.6,740.4 406.5,736.5 417.3,733.1 427.7,732.7 438.8,733.7" fill="none" stroke="#26ae26" stroke-width="1.3" stroke-linejoin="round"/>
<g fill="#26ae26"><circle cx="288.5" cy="762.7" r="2.5"/><circle cx="298.5" cy="762.7" r="2.5"/><circle cx="309.2" cy="758.7" r="2.5"/><circle cx="320.5" cy="757.9" r="2.5"/><circle cx="331.4" cy="754.8" r="2.5"/><circle cx="341.8" cy="751.0" r="2.5"/><circle cx="352.8" cy="748.9" r="2.5"/><circle cx="363.7" cy="745.8" r="2.5"/><circle cx="374.1" cy="743.7" r="2.5"/><circle cx="384.6" cy="739.4" r="2.5"/><circle cx="395.6" cy="740.4" r="2.5"/><circle cx="406.5" cy="736.5" r="2.5"/><circle cx="417.3" cy="733.1" r="2.5"/><circle cx="427.7" cy="732.7" r="2.5"/><circle cx="438.8" cy="733.7" r="2.5"/></g>
<path d="M288.5,756.5V764.5M286.3,756.5H290.7M286.3,764.5H290.7M298.5,752.2V764.2M296.3,752.2H300.7M296.3,764.2H300.7M309.2,750.8V760.8M307.0,750.8H311.4M307.0,760.8H311.4M320.5,746.7V758.7M318.3,746.7H322.7M318.3,758.7H322.7M331.4,742.9V754.9M329.2,742.9H333.6M329.2,754.9H333.6M341.8,731.0V751.8M339.6,731.0H344.0M339.6,751.8H344.0M352.8,730.5V747.1M350.6,730.5H355.0M350.6,747.1H355.0M362.9,729.5V743.5M360.7,729.5H365.1M360.7,743.5H365.1M374.4,726.2V742.2M372.2,726.2H376.6M372.2,742.2H376.6M384.6,721.2V737.2M382.4,721.2H386.8M382.4,737.2H386.8M395.6,720.9V734.9M393.4,720.9H397.8M393.4,734.9H397.8M406.5,716.3V734.5M404.3,716.3H408.7M404.3,734.5H408.7M417.3,707.3V736.9M415.1,707.3H419.5M415.1,736.9H419.5M427.7,700.4V726.6M425.5,700.4H429.9M425.5,726.6H429.9M438.8,705.4V728.4M436.6,705.4H441.0M436.6,728.4H441.0" fill="none" stroke="#7272c4" stroke-width="0.9"/>
<polyline points="288.5,760.5 298.5,758.2 309.2,755.8 320.5,752.7 331.4,748.9 341.8,741.4 352.8,738.8 362.9,736.5 374.4,734.2 384.6,729.2 395.6,727.9 406.5,725.4 417.3,722.1 427.7,713.5 438.8,716.9" fill="none" stroke="#1a14c0" stroke-width="1.3" stroke-linejoin="round"/>
<g fill="#1a14c0"><circle cx="288.5" cy="760.5" r="2.6"/><circle cx="298.5" cy="758.2" r="2.6"/><circle cx="309.2" cy="755.8" r="2.6"/><circle cx="320.5" cy="752.7" r="2.6"/><circle cx="331.4" cy="748.9" r="2.6"/><circle cx="341.8" cy="741.4" r="2.6"/><circle cx="352.8" cy="738.8" r="2.6"/><circle cx="362.9" cy="736.5" r="2.6"/><circle cx="374.4" cy="734.2" r="2.6"/><circle cx="384.6" cy="729.2" r="2.6"/><circle cx="395.6" cy="727.9" r="2.6"/><circle cx="406.5" cy="725.4" r="2.6"/><circle cx="417.3" cy="722.1" r="2.6"/><circle cx="427.7" cy="713.5" r="2.6"/><circle cx="438.8" cy="716.9" r="2.6"/></g>
<path d="M288.5,755.5V765.5M286.3,755.5H290.7M286.3,765.5H290.7M298.5,751.7V765.7M296.3,751.7H300.7M296.3,765.7H300.7M309.2,751.0V763.0M307.0,751.0H311.4M307.0,763.0H311.4M320.5,744.0V754.4M318.3,744.0H322.7M318.3,754.4H322.7M331.4,744.9V750.7M329.2,744.9H333.6M329.2,750.7H333.6M341.8,739.9V749.9M339.6,739.9H344.0M339.6,749.9H344.0M352.8,732.8V744.8M350.6,732.8H355.0M350.6,744.8H355.0M362.9,726.0V740.2M360.7,726.0H365.1M360.7,740.2H365.1M374.4,720.8V736.8M372.2,720.8H376.6M372.2,736.8H376.6M384.6,704.2V725.8M382.4,704.2H386.8M382.4,725.8H386.8M395.6,702.9V727.9M393.4,702.9H397.8M393.4,727.9H397.8" fill="none" stroke="#de6468" stroke-width="0.9"/>
<polyline points="288.5,760.5 298.5,758.7 309.2,757.0 320.5,749.2 331.4,747.8 341.8,744.9 352.8,738.8 362.9,733.1 374.4,728.8 384.6,715.0 395.6,715.4 406.5,693.8 417.3,699.0 427.7,681.3" fill="none" stroke="#ea1c24" stroke-width="1.3" stroke-linejoin="round"/>
<g fill="#ea1c24"><circle cx="288.5" cy="760.5" r="2.6"/><circle cx="298.5" cy="758.7" r="2.6"/><circle cx="309.2" cy="757.0" r="2.6"/><circle cx="320.5" cy="749.2" r="2.6"/><circle cx="331.4" cy="747.8" r="2.6"/><circle cx="341.8" cy="744.9" r="2.6"/><circle cx="352.8" cy="738.8" r="2.6"/><circle cx="362.9" cy="733.1" r="2.6"/><circle cx="374.4" cy="728.8" r="2.6"/><circle cx="384.6" cy="715.0" r="2.6"/><circle cx="395.6" cy="715.4" r="2.6"/><circle cx="406.5" cy="693.8" r="2.6"/><circle cx="417.3" cy="699.0" r="2.6"/><circle cx="427.7" cy="681.3" r="2.6"/></g>
<line x1="452.0" y1="666.2" x2="463.8" y2="666.2" stroke="#1a14c0" stroke-width="1.3" />
<circle cx="457.9" cy="666.2" r="2.7" fill="#1a14c0"/>
<text x="470.8" y="669.5" font-size="8.6" text-anchor="start" font-weight="normal" fill="#222222" stroke="#222222" stroke-width="0.22" >Control</text>
<line x1="452.0" y1="680.8" x2="463.8" y2="680.8" stroke="#ea1c24" stroke-width="1.3" />
<circle cx="457.9" cy="680.8" r="2.7" fill="#ea1c24"/>
<text x="470.8" y="684.1" font-size="8.6" text-anchor="start" font-weight="normal" fill="#222222" stroke="#222222" stroke-width="0.22" >GefT2</text>
<line x1="452.0" y1="695.4" x2="463.8" y2="695.4" stroke="#26ae26" stroke-width="1.3" />
<circle cx="457.9" cy="695.4" r="2.7" fill="#26ae26"/>
<text x="470.8" y="698.7" font-size="8.6" text-anchor="start" font-weight="normal" fill="#222222" stroke="#222222" stroke-width="0.22" >GefT4</text>
<line x1="452.0" y1="711.2" x2="463.8" y2="711.2" stroke="#ea1c24" stroke-width="1.3" />
<rect x="455.2" y="708.5" width="5.4" height="5.4" fill="#ea1c24"/>
<text x="470.8" y="714.5" font-size="8.6" text-anchor="start" font-weight="normal" fill="#222222" stroke="#222222" stroke-width="0.22" >GefT2.1</text>
<line x1="452.0" y1="726.9" x2="463.8" y2="726.9" stroke="#26ae26" stroke-width="1.3" />
<rect x="455.2" y="724.2" width="5.4" height="5.4" fill="#26ae26"/>
<text x="470.8" y="730.2" font-size="8.6" text-anchor="start" font-weight="normal" fill="#222222" stroke="#222222" stroke-width="0.22" >GefT4.2</text>
<line x1="505.5" y1="675.4" x2="505.5" y2="696.9" stroke="#555" stroke-width="0.9" />
<text transform="translate(514.1,685.4) rotate(-90)" font-size="8.5" text-anchor="middle" fill="#222222" stroke="#222222" stroke-width="0.22">C2</text>
<line x1="505.5" y1="706.9" x2="505.5" y2="729.2" stroke="#555" stroke-width="0.9" />
<text transform="translate(514.1,717.7) rotate(-90)" font-size="8.5" text-anchor="middle" fill="#222222" stroke="#222222" stroke-width="0.22">C3</text>
</svg>
</body></html>
